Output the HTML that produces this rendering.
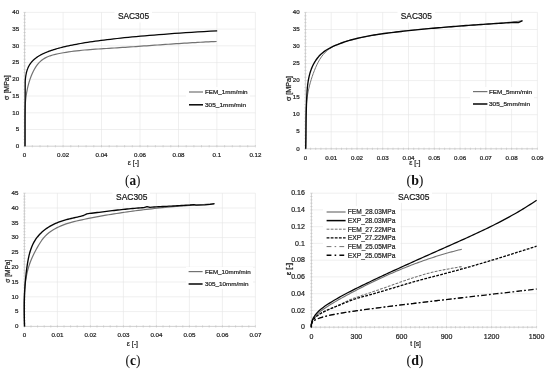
<!DOCTYPE html>
<html><head><meta charset="utf-8"><title>SAC305</title>
<style>html,body{margin:0;padding:0;background:#fff;}svg{display:block;}</style></head>
<body>
<svg width="550" height="370" viewBox="0 0 550 370">
<rect width="550" height="370" fill="#fff"/>
<line x1="63.1" y1="146.2" x2="63.1" y2="12.4" stroke="#e4e4e4" stroke-width="0.6"/>
<line x1="101.5" y1="146.2" x2="101.5" y2="12.4" stroke="#e4e4e4" stroke-width="0.6"/>
<line x1="140.0" y1="146.2" x2="140.0" y2="12.4" stroke="#e4e4e4" stroke-width="0.6"/>
<line x1="178.5" y1="146.2" x2="178.5" y2="12.4" stroke="#e4e4e4" stroke-width="0.6"/>
<line x1="216.9" y1="146.2" x2="216.9" y2="12.4" stroke="#e4e4e4" stroke-width="0.6"/>
<line x1="255.4" y1="146.2" x2="255.4" y2="12.4" stroke="#e4e4e4" stroke-width="0.6"/>
<line x1="24.6" y1="129.5" x2="255.4" y2="129.5" stroke="#e4e4e4" stroke-width="0.6"/>
<line x1="24.6" y1="112.8" x2="255.4" y2="112.8" stroke="#e4e4e4" stroke-width="0.6"/>
<line x1="24.6" y1="96.0" x2="255.4" y2="96.0" stroke="#e4e4e4" stroke-width="0.6"/>
<line x1="24.6" y1="79.3" x2="255.4" y2="79.3" stroke="#e4e4e4" stroke-width="0.6"/>
<line x1="24.6" y1="62.6" x2="255.4" y2="62.6" stroke="#e4e4e4" stroke-width="0.6"/>
<line x1="24.6" y1="45.8" x2="255.4" y2="45.8" stroke="#e4e4e4" stroke-width="0.6"/>
<line x1="24.6" y1="29.1" x2="255.4" y2="29.1" stroke="#e4e4e4" stroke-width="0.6"/>
<line x1="24.6" y1="12.4" x2="255.4" y2="12.4" stroke="#e4e4e4" stroke-width="0.6"/>
<line x1="24.6" y1="146.2" x2="255.4" y2="146.2" stroke="#bcbcbc" stroke-width="0.7"/>
<line x1="24.6" y1="146.2" x2="24.6" y2="12.4" stroke="#bcbcbc" stroke-width="0.7"/>
<line x1="24.6" y1="145.0" x2="24.6" y2="147.4" stroke="#bcbcbc" stroke-width="0.5"/>
<line x1="32.3" y1="145.0" x2="32.3" y2="147.4" stroke="#bcbcbc" stroke-width="0.5"/>
<line x1="40.0" y1="145.0" x2="40.0" y2="147.4" stroke="#bcbcbc" stroke-width="0.5"/>
<line x1="47.7" y1="145.0" x2="47.7" y2="147.4" stroke="#bcbcbc" stroke-width="0.5"/>
<line x1="55.4" y1="145.0" x2="55.4" y2="147.4" stroke="#bcbcbc" stroke-width="0.5"/>
<line x1="63.1" y1="145.0" x2="63.1" y2="147.4" stroke="#bcbcbc" stroke-width="0.5"/>
<line x1="70.8" y1="145.0" x2="70.8" y2="147.4" stroke="#bcbcbc" stroke-width="0.5"/>
<line x1="78.5" y1="145.0" x2="78.5" y2="147.4" stroke="#bcbcbc" stroke-width="0.5"/>
<line x1="86.1" y1="145.0" x2="86.1" y2="147.4" stroke="#bcbcbc" stroke-width="0.5"/>
<line x1="93.8" y1="145.0" x2="93.8" y2="147.4" stroke="#bcbcbc" stroke-width="0.5"/>
<line x1="101.5" y1="145.0" x2="101.5" y2="147.4" stroke="#bcbcbc" stroke-width="0.5"/>
<line x1="109.2" y1="145.0" x2="109.2" y2="147.4" stroke="#bcbcbc" stroke-width="0.5"/>
<line x1="116.9" y1="145.0" x2="116.9" y2="147.4" stroke="#bcbcbc" stroke-width="0.5"/>
<line x1="124.6" y1="145.0" x2="124.6" y2="147.4" stroke="#bcbcbc" stroke-width="0.5"/>
<line x1="132.3" y1="145.0" x2="132.3" y2="147.4" stroke="#bcbcbc" stroke-width="0.5"/>
<line x1="140.0" y1="145.0" x2="140.0" y2="147.4" stroke="#bcbcbc" stroke-width="0.5"/>
<line x1="147.7" y1="145.0" x2="147.7" y2="147.4" stroke="#bcbcbc" stroke-width="0.5"/>
<line x1="155.4" y1="145.0" x2="155.4" y2="147.4" stroke="#bcbcbc" stroke-width="0.5"/>
<line x1="163.1" y1="145.0" x2="163.1" y2="147.4" stroke="#bcbcbc" stroke-width="0.5"/>
<line x1="170.8" y1="145.0" x2="170.8" y2="147.4" stroke="#bcbcbc" stroke-width="0.5"/>
<line x1="178.5" y1="145.0" x2="178.5" y2="147.4" stroke="#bcbcbc" stroke-width="0.5"/>
<line x1="186.2" y1="145.0" x2="186.2" y2="147.4" stroke="#bcbcbc" stroke-width="0.5"/>
<line x1="193.9" y1="145.0" x2="193.9" y2="147.4" stroke="#bcbcbc" stroke-width="0.5"/>
<line x1="201.5" y1="145.0" x2="201.5" y2="147.4" stroke="#bcbcbc" stroke-width="0.5"/>
<line x1="209.2" y1="145.0" x2="209.2" y2="147.4" stroke="#bcbcbc" stroke-width="0.5"/>
<line x1="216.9" y1="145.0" x2="216.9" y2="147.4" stroke="#bcbcbc" stroke-width="0.5"/>
<line x1="224.6" y1="145.0" x2="224.6" y2="147.4" stroke="#bcbcbc" stroke-width="0.5"/>
<line x1="232.3" y1="145.0" x2="232.3" y2="147.4" stroke="#bcbcbc" stroke-width="0.5"/>
<line x1="240.0" y1="145.0" x2="240.0" y2="147.4" stroke="#bcbcbc" stroke-width="0.5"/>
<line x1="247.7" y1="145.0" x2="247.7" y2="147.4" stroke="#bcbcbc" stroke-width="0.5"/>
<line x1="255.4" y1="145.0" x2="255.4" y2="147.4" stroke="#bcbcbc" stroke-width="0.5"/>
<line x1="23.4" y1="146.2" x2="25.8" y2="146.2" stroke="#bcbcbc" stroke-width="0.5"/>
<line x1="23.4" y1="142.9" x2="25.8" y2="142.9" stroke="#bcbcbc" stroke-width="0.5"/>
<line x1="23.4" y1="139.5" x2="25.8" y2="139.5" stroke="#bcbcbc" stroke-width="0.5"/>
<line x1="23.4" y1="136.2" x2="25.8" y2="136.2" stroke="#bcbcbc" stroke-width="0.5"/>
<line x1="23.4" y1="132.8" x2="25.8" y2="132.8" stroke="#bcbcbc" stroke-width="0.5"/>
<line x1="23.4" y1="129.5" x2="25.8" y2="129.5" stroke="#bcbcbc" stroke-width="0.5"/>
<line x1="23.4" y1="126.1" x2="25.8" y2="126.1" stroke="#bcbcbc" stroke-width="0.5"/>
<line x1="23.4" y1="122.8" x2="25.8" y2="122.8" stroke="#bcbcbc" stroke-width="0.5"/>
<line x1="23.4" y1="119.4" x2="25.8" y2="119.4" stroke="#bcbcbc" stroke-width="0.5"/>
<line x1="23.4" y1="116.1" x2="25.8" y2="116.1" stroke="#bcbcbc" stroke-width="0.5"/>
<line x1="23.4" y1="112.8" x2="25.8" y2="112.8" stroke="#bcbcbc" stroke-width="0.5"/>
<line x1="23.4" y1="109.4" x2="25.8" y2="109.4" stroke="#bcbcbc" stroke-width="0.5"/>
<line x1="23.4" y1="106.1" x2="25.8" y2="106.1" stroke="#bcbcbc" stroke-width="0.5"/>
<line x1="23.4" y1="102.7" x2="25.8" y2="102.7" stroke="#bcbcbc" stroke-width="0.5"/>
<line x1="23.4" y1="99.4" x2="25.8" y2="99.4" stroke="#bcbcbc" stroke-width="0.5"/>
<line x1="23.4" y1="96.0" x2="25.8" y2="96.0" stroke="#bcbcbc" stroke-width="0.5"/>
<line x1="23.4" y1="92.7" x2="25.8" y2="92.7" stroke="#bcbcbc" stroke-width="0.5"/>
<line x1="23.4" y1="89.3" x2="25.8" y2="89.3" stroke="#bcbcbc" stroke-width="0.5"/>
<line x1="23.4" y1="86.0" x2="25.8" y2="86.0" stroke="#bcbcbc" stroke-width="0.5"/>
<line x1="23.4" y1="82.6" x2="25.8" y2="82.6" stroke="#bcbcbc" stroke-width="0.5"/>
<line x1="23.4" y1="79.3" x2="25.8" y2="79.3" stroke="#bcbcbc" stroke-width="0.5"/>
<line x1="23.4" y1="76.0" x2="25.8" y2="76.0" stroke="#bcbcbc" stroke-width="0.5"/>
<line x1="23.4" y1="72.6" x2="25.8" y2="72.6" stroke="#bcbcbc" stroke-width="0.5"/>
<line x1="23.4" y1="69.3" x2="25.8" y2="69.3" stroke="#bcbcbc" stroke-width="0.5"/>
<line x1="23.4" y1="65.9" x2="25.8" y2="65.9" stroke="#bcbcbc" stroke-width="0.5"/>
<line x1="23.4" y1="62.6" x2="25.8" y2="62.6" stroke="#bcbcbc" stroke-width="0.5"/>
<line x1="23.4" y1="59.2" x2="25.8" y2="59.2" stroke="#bcbcbc" stroke-width="0.5"/>
<line x1="23.4" y1="55.9" x2="25.8" y2="55.9" stroke="#bcbcbc" stroke-width="0.5"/>
<line x1="23.4" y1="52.5" x2="25.8" y2="52.5" stroke="#bcbcbc" stroke-width="0.5"/>
<line x1="23.4" y1="49.2" x2="25.8" y2="49.2" stroke="#bcbcbc" stroke-width="0.5"/>
<line x1="23.4" y1="45.8" x2="25.8" y2="45.8" stroke="#bcbcbc" stroke-width="0.5"/>
<line x1="23.4" y1="42.5" x2="25.8" y2="42.5" stroke="#bcbcbc" stroke-width="0.5"/>
<line x1="23.4" y1="39.2" x2="25.8" y2="39.2" stroke="#bcbcbc" stroke-width="0.5"/>
<line x1="23.4" y1="35.8" x2="25.8" y2="35.8" stroke="#bcbcbc" stroke-width="0.5"/>
<line x1="23.4" y1="32.5" x2="25.8" y2="32.5" stroke="#bcbcbc" stroke-width="0.5"/>
<line x1="23.4" y1="29.1" x2="25.8" y2="29.1" stroke="#bcbcbc" stroke-width="0.5"/>
<line x1="23.4" y1="25.8" x2="25.8" y2="25.8" stroke="#bcbcbc" stroke-width="0.5"/>
<line x1="23.4" y1="22.4" x2="25.8" y2="22.4" stroke="#bcbcbc" stroke-width="0.5"/>
<line x1="23.4" y1="19.1" x2="25.8" y2="19.1" stroke="#bcbcbc" stroke-width="0.5"/>
<line x1="23.4" y1="15.7" x2="25.8" y2="15.7" stroke="#bcbcbc" stroke-width="0.5"/>
<line x1="23.4" y1="12.4" x2="25.8" y2="12.4" stroke="#bcbcbc" stroke-width="0.5"/>
<text x="19.2" y="147.9" font-family='"Liberation Sans", sans-serif' font-size="6.2" font-weight="normal" text-anchor="end" fill="#1f1f1f" stroke="#1f1f1f" stroke-width="0.22">0</text>
<text x="19.2" y="131.2" font-family='"Liberation Sans", sans-serif' font-size="6.2" font-weight="normal" text-anchor="end" fill="#1f1f1f" stroke="#1f1f1f" stroke-width="0.22">5</text>
<text x="19.2" y="114.5" font-family='"Liberation Sans", sans-serif' font-size="6.2" font-weight="normal" text-anchor="end" fill="#1f1f1f" stroke="#1f1f1f" stroke-width="0.22">10</text>
<text x="19.2" y="97.7" font-family='"Liberation Sans", sans-serif' font-size="6.2" font-weight="normal" text-anchor="end" fill="#1f1f1f" stroke="#1f1f1f" stroke-width="0.22">15</text>
<text x="19.2" y="81.0" font-family='"Liberation Sans", sans-serif' font-size="6.2" font-weight="normal" text-anchor="end" fill="#1f1f1f" stroke="#1f1f1f" stroke-width="0.22">20</text>
<text x="19.2" y="64.3" font-family='"Liberation Sans", sans-serif' font-size="6.2" font-weight="normal" text-anchor="end" fill="#1f1f1f" stroke="#1f1f1f" stroke-width="0.22">25</text>
<text x="19.2" y="47.5" font-family='"Liberation Sans", sans-serif' font-size="6.2" font-weight="normal" text-anchor="end" fill="#1f1f1f" stroke="#1f1f1f" stroke-width="0.22">30</text>
<text x="19.2" y="30.8" font-family='"Liberation Sans", sans-serif' font-size="6.2" font-weight="normal" text-anchor="end" fill="#1f1f1f" stroke="#1f1f1f" stroke-width="0.22">35</text>
<text x="19.2" y="14.1" font-family='"Liberation Sans", sans-serif' font-size="6.2" font-weight="normal" text-anchor="end" fill="#1f1f1f" stroke="#1f1f1f" stroke-width="0.22">40</text>
<text x="24.6" y="157.4" font-family='"Liberation Sans", sans-serif' font-size="6.2" font-weight="normal" text-anchor="middle" fill="#1f1f1f" stroke="#1f1f1f" stroke-width="0.22">0</text>
<text x="63.1" y="157.4" font-family='"Liberation Sans", sans-serif' font-size="6.2" font-weight="normal" text-anchor="middle" fill="#1f1f1f" stroke="#1f1f1f" stroke-width="0.22">0.02</text>
<text x="101.5" y="157.4" font-family='"Liberation Sans", sans-serif' font-size="6.2" font-weight="normal" text-anchor="middle" fill="#1f1f1f" stroke="#1f1f1f" stroke-width="0.22">0.04</text>
<text x="140.0" y="157.4" font-family='"Liberation Sans", sans-serif' font-size="6.2" font-weight="normal" text-anchor="middle" fill="#1f1f1f" stroke="#1f1f1f" stroke-width="0.22">0.06</text>
<text x="178.5" y="157.4" font-family='"Liberation Sans", sans-serif' font-size="6.2" font-weight="normal" text-anchor="middle" fill="#1f1f1f" stroke="#1f1f1f" stroke-width="0.22">0.08</text>
<text x="216.9" y="157.4" font-family='"Liberation Sans", sans-serif' font-size="6.2" font-weight="normal" text-anchor="middle" fill="#1f1f1f" stroke="#1f1f1f" stroke-width="0.22">0.1</text>
<text x="255.4" y="157.4" font-family='"Liberation Sans", sans-serif' font-size="6.2" font-weight="normal" text-anchor="middle" fill="#1f1f1f" stroke="#1f1f1f" stroke-width="0.22">0.12</text>
<text x="133.3" y="165.4" font-family='"Liberation Sans", sans-serif' font-size="7.0" font-weight="normal" text-anchor="middle" fill="#1f1f1f" stroke="#1f1f1f" stroke-width="0.22">ε [-]</text>
<text x="8.9" y="87.6" font-family='"Liberation Sans", sans-serif' font-size="7.0" font-weight="normal" text-anchor="middle" fill="#1f1f1f" transform="rotate(-90 8.9 87.6)" stroke="#1f1f1f" stroke-width="0.22">σ [MPa]</text>
<rect x="114.5" y="8" width="37.5" height="14.5" fill="#fff"/>
<text x="133.5" y="19.4" font-family='"Liberation Sans", sans-serif' font-size="9.2" font-weight="normal" text-anchor="middle" fill="#151515" textLength="31.2" lengthAdjust="spacingAndGlyphs" stroke="#151515" stroke-width="0.22">SAC305</text>
<path d="M25.04 146.22 L25.06 143.51 L25.06 140.80 L25.04 138.09 L25.01 135.38 L24.96 132.68 L24.92 129.97 L24.87 127.27 L24.84 124.57 L24.81 121.87 L24.80 119.17 L24.81 116.48 L24.85 113.79 L24.92 111.11 L25.02 108.43 L25.17 105.75 L25.36 103.08 L25.60 100.42 L25.90 97.76 L26.26 95.11 L26.69 92.46 L27.19 89.82 L27.76 87.19 L28.41 84.57 L29.15 81.95 L29.98 79.34 L30.91 76.75 L31.94 74.18 L33.09 71.67 L34.38 69.24 L35.80 66.90 L37.38 64.70 L39.11 62.65 L41.01 60.81 L43.08 59.22 L45.31 57.87 L47.67 56.75 L50.15 55.81 L52.71 55.03 L55.33 54.37 L57.98 53.78 L60.64 53.25 L63.31 52.76 L65.98 52.30 L68.65 51.88 L71.32 51.50 L74.00 51.15 L76.68 50.83 L79.36 50.53 L82.05 50.26 L84.74 50.01 L87.42 49.78 L90.11 49.56 L92.80 49.36 L95.50 49.18 L98.19 49.00 L100.88 48.83 L103.57 48.66 L106.27 48.50 L108.96 48.33 L111.65 48.17 L114.34 48.00 L117.04 47.82 L119.73 47.65 L122.42 47.47 L125.11 47.29 L127.80 47.10 L130.49 46.92 L133.18 46.73 L135.87 46.54 L138.56 46.35 L141.25 46.16 L143.94 45.97 L146.63 45.78 L149.31 45.59 L152.00 45.39 L154.69 45.20 L157.38 45.01 L160.07 44.82 L162.76 44.63 L165.45 44.45 L168.14 44.26 L170.83 44.08 L173.52 43.89 L176.21 43.71 L178.90 43.54 L181.59 43.36 L184.28 43.19 L186.97 43.03 L189.66 42.86 L192.36 42.70 L195.05 42.55 L197.74 42.40 L200.43 42.25 L203.13 42.11 L205.82 41.97 L208.52 41.84 L211.22 41.71 L213.91 41.59 L216.61 41.48" fill="none" stroke="#727272" stroke-width="1.2" stroke-linejoin="round" stroke-linecap="butt"/>
<path d="M25.00 146.20 L25.08 126.13 L25.15 106.06 L25.23 85.99 L25.24 84.32 L25.24 83.93 L25.24 83.55 L25.24 83.16 L25.24 82.78 L25.24 82.39 L25.25 82.01 L25.25 81.62 L25.25 81.24 L25.25 80.85 L25.28 80.47 L25.32 80.08 L25.35 79.70 L25.39 79.31 L25.43 78.93 L25.47 78.54 L25.51 78.16 L25.55 77.77 L25.60 77.39 L25.65 77.00 L25.70 76.62 L25.76 76.23 L25.81 75.85 L25.87 75.46 L25.94 75.08 L26.01 74.69 L26.08 74.31 L26.15 73.92 L26.23 73.54 L26.31 73.15 L26.40 72.77 L26.49 72.38 L26.59 72.00 L26.69 71.61 L26.79 71.23 L26.90 70.84 L27.02 70.46 L27.14 70.07 L27.27 69.69 L27.40 69.30 L27.55 68.92 L27.69 68.53 L27.85 68.15 L28.01 67.76 L28.18 67.38 L28.36 66.99 L28.55 66.61 L28.74 66.22 L28.95 65.84 L29.16 65.45 L29.39 65.07 L29.62 64.68 L29.87 64.30 L30.13 63.91 L30.40 63.53 L30.68 63.14 L30.97 62.76 L31.28 62.37 L31.60 61.99 L31.94 61.60 L32.29 61.22 L32.66 60.83 L33.04 60.45 L33.44 60.06 L33.86 59.68 L34.29 59.29 L34.75 58.91 L35.22 58.52 L35.72 58.14 L36.23 57.75 L36.77 57.36 L37.33 56.98 L37.92 56.59 L38.53 56.21 L39.16 55.82 L39.82 55.44 L40.51 55.05 L41.23 54.67 L41.98 54.28 L42.76 53.90 L43.57 53.51 L44.41 53.13 L45.29 52.74 L46.20 52.36 L47.15 51.97 L48.13 51.59 L49.16 51.20 L50.23 50.82 L51.34 50.43 L52.49 50.05 L53.69 49.66 L54.94 49.28 L56.23 48.89 L57.58 48.51 L58.97 48.12 L60.43 47.74 L61.93 47.35 L63.50 46.97 L65.12 46.58 L66.80 46.20 L68.55 45.81 L70.37 45.43 L72.25 45.04 L74.20 44.66 L76.23 44.27 L78.33 43.89 L80.51 43.50 L82.76 43.12 L85.11 42.73 L87.53 42.35 L90.05 41.96 L92.65 41.58 L95.35 41.19 L98.15 40.81 L101.04 40.42 L104.05 40.04 L107.15 39.65 L110.37 39.27 L113.70 38.88 L117.15 38.50 L120.72 38.11 L124.41 37.73 L128.23 37.34 L132.18 36.96 L136.27 36.57 L140.51 36.19 L144.88 35.80 L149.41 35.42 L154.09 35.03 L158.93 34.65 L163.93 34.26 L169.10 33.88 L174.45 33.49 L179.97 33.11 L185.68 32.72 L191.58 32.34 L197.67 31.95 L203.96 31.57 L210.46 31.18 L217.18 30.80" fill="none" stroke="#050505" stroke-width="1.25" stroke-linejoin="round" stroke-linecap="butt"/>
<rect x="186" y="87" width="64" height="22" fill="#fff"/>
<line x1="189" y1="92" x2="203" y2="92" stroke="#727272" stroke-width="1.2"/>
<line x1="189" y1="104.8" x2="203" y2="104.8" stroke="#050505" stroke-width="1.5"/>
<text x="205.0" y="94.0" font-family='"Liberation Sans", sans-serif' font-size="6.2" font-weight="normal" text-anchor="start" fill="#1f1f1f" textLength="42.6" lengthAdjust="spacingAndGlyphs" stroke="#1f1f1f" stroke-width="0.22">FEM_1mm/min</text>
<text x="205.0" y="106.8" font-family='"Liberation Sans", sans-serif' font-size="6.2" font-weight="normal" text-anchor="start" fill="#1f1f1f" textLength="41.0" lengthAdjust="spacingAndGlyphs" stroke="#1f1f1f" stroke-width="0.22">305_1mm/min</text>
<text x="132.8" y="184.5" font-family='"Liberation Serif", serif' font-size="14.5" text-anchor="middle" fill="#111" textLength="15.5" lengthAdjust="spacingAndGlyphs">(<tspan font-weight="bold">a</tspan>)</text>
<line x1="331.2" y1="148.8" x2="331.2" y2="12.4" stroke="#e4e4e4" stroke-width="0.6"/>
<line x1="357.0" y1="148.8" x2="357.0" y2="12.4" stroke="#e4e4e4" stroke-width="0.6"/>
<line x1="382.7" y1="148.8" x2="382.7" y2="12.4" stroke="#e4e4e4" stroke-width="0.6"/>
<line x1="408.5" y1="148.8" x2="408.5" y2="12.4" stroke="#e4e4e4" stroke-width="0.6"/>
<line x1="434.3" y1="148.8" x2="434.3" y2="12.4" stroke="#e4e4e4" stroke-width="0.6"/>
<line x1="460.1" y1="148.8" x2="460.1" y2="12.4" stroke="#e4e4e4" stroke-width="0.6"/>
<line x1="485.8" y1="148.8" x2="485.8" y2="12.4" stroke="#e4e4e4" stroke-width="0.6"/>
<line x1="511.6" y1="148.8" x2="511.6" y2="12.4" stroke="#e4e4e4" stroke-width="0.6"/>
<line x1="537.4" y1="148.8" x2="537.4" y2="12.4" stroke="#e4e4e4" stroke-width="0.6"/>
<line x1="305.4" y1="131.8" x2="537.4" y2="131.8" stroke="#e4e4e4" stroke-width="0.6"/>
<line x1="305.4" y1="114.7" x2="537.4" y2="114.7" stroke="#e4e4e4" stroke-width="0.6"/>
<line x1="305.4" y1="97.7" x2="537.4" y2="97.7" stroke="#e4e4e4" stroke-width="0.6"/>
<line x1="305.4" y1="80.6" x2="537.4" y2="80.6" stroke="#e4e4e4" stroke-width="0.6"/>
<line x1="305.4" y1="63.6" x2="537.4" y2="63.6" stroke="#e4e4e4" stroke-width="0.6"/>
<line x1="305.4" y1="46.5" x2="537.4" y2="46.5" stroke="#e4e4e4" stroke-width="0.6"/>
<line x1="305.4" y1="29.5" x2="537.4" y2="29.5" stroke="#e4e4e4" stroke-width="0.6"/>
<line x1="305.4" y1="12.4" x2="537.4" y2="12.4" stroke="#e4e4e4" stroke-width="0.6"/>
<line x1="305.4" y1="148.8" x2="537.4" y2="148.8" stroke="#bcbcbc" stroke-width="0.7"/>
<line x1="305.4" y1="148.8" x2="305.4" y2="12.4" stroke="#bcbcbc" stroke-width="0.7"/>
<line x1="305.4" y1="147.6" x2="305.4" y2="150.0" stroke="#bcbcbc" stroke-width="0.5"/>
<line x1="310.6" y1="147.6" x2="310.6" y2="150.0" stroke="#bcbcbc" stroke-width="0.5"/>
<line x1="315.7" y1="147.6" x2="315.7" y2="150.0" stroke="#bcbcbc" stroke-width="0.5"/>
<line x1="320.9" y1="147.6" x2="320.9" y2="150.0" stroke="#bcbcbc" stroke-width="0.5"/>
<line x1="326.0" y1="147.6" x2="326.0" y2="150.0" stroke="#bcbcbc" stroke-width="0.5"/>
<line x1="331.2" y1="147.6" x2="331.2" y2="150.0" stroke="#bcbcbc" stroke-width="0.5"/>
<line x1="336.3" y1="147.6" x2="336.3" y2="150.0" stroke="#bcbcbc" stroke-width="0.5"/>
<line x1="341.5" y1="147.6" x2="341.5" y2="150.0" stroke="#bcbcbc" stroke-width="0.5"/>
<line x1="346.6" y1="147.6" x2="346.6" y2="150.0" stroke="#bcbcbc" stroke-width="0.5"/>
<line x1="351.8" y1="147.6" x2="351.8" y2="150.0" stroke="#bcbcbc" stroke-width="0.5"/>
<line x1="357.0" y1="147.6" x2="357.0" y2="150.0" stroke="#bcbcbc" stroke-width="0.5"/>
<line x1="362.1" y1="147.6" x2="362.1" y2="150.0" stroke="#bcbcbc" stroke-width="0.5"/>
<line x1="367.3" y1="147.6" x2="367.3" y2="150.0" stroke="#bcbcbc" stroke-width="0.5"/>
<line x1="372.4" y1="147.6" x2="372.4" y2="150.0" stroke="#bcbcbc" stroke-width="0.5"/>
<line x1="377.6" y1="147.6" x2="377.6" y2="150.0" stroke="#bcbcbc" stroke-width="0.5"/>
<line x1="382.7" y1="147.6" x2="382.7" y2="150.0" stroke="#bcbcbc" stroke-width="0.5"/>
<line x1="387.9" y1="147.6" x2="387.9" y2="150.0" stroke="#bcbcbc" stroke-width="0.5"/>
<line x1="393.0" y1="147.6" x2="393.0" y2="150.0" stroke="#bcbcbc" stroke-width="0.5"/>
<line x1="398.2" y1="147.6" x2="398.2" y2="150.0" stroke="#bcbcbc" stroke-width="0.5"/>
<line x1="403.4" y1="147.6" x2="403.4" y2="150.0" stroke="#bcbcbc" stroke-width="0.5"/>
<line x1="408.5" y1="147.6" x2="408.5" y2="150.0" stroke="#bcbcbc" stroke-width="0.5"/>
<line x1="413.7" y1="147.6" x2="413.7" y2="150.0" stroke="#bcbcbc" stroke-width="0.5"/>
<line x1="418.8" y1="147.6" x2="418.8" y2="150.0" stroke="#bcbcbc" stroke-width="0.5"/>
<line x1="424.0" y1="147.6" x2="424.0" y2="150.0" stroke="#bcbcbc" stroke-width="0.5"/>
<line x1="429.1" y1="147.6" x2="429.1" y2="150.0" stroke="#bcbcbc" stroke-width="0.5"/>
<line x1="434.3" y1="147.6" x2="434.3" y2="150.0" stroke="#bcbcbc" stroke-width="0.5"/>
<line x1="439.4" y1="147.6" x2="439.4" y2="150.0" stroke="#bcbcbc" stroke-width="0.5"/>
<line x1="444.6" y1="147.6" x2="444.6" y2="150.0" stroke="#bcbcbc" stroke-width="0.5"/>
<line x1="449.8" y1="147.6" x2="449.8" y2="150.0" stroke="#bcbcbc" stroke-width="0.5"/>
<line x1="454.9" y1="147.6" x2="454.9" y2="150.0" stroke="#bcbcbc" stroke-width="0.5"/>
<line x1="460.1" y1="147.6" x2="460.1" y2="150.0" stroke="#bcbcbc" stroke-width="0.5"/>
<line x1="465.2" y1="147.6" x2="465.2" y2="150.0" stroke="#bcbcbc" stroke-width="0.5"/>
<line x1="470.4" y1="147.6" x2="470.4" y2="150.0" stroke="#bcbcbc" stroke-width="0.5"/>
<line x1="475.5" y1="147.6" x2="475.5" y2="150.0" stroke="#bcbcbc" stroke-width="0.5"/>
<line x1="480.7" y1="147.6" x2="480.7" y2="150.0" stroke="#bcbcbc" stroke-width="0.5"/>
<line x1="485.8" y1="147.6" x2="485.8" y2="150.0" stroke="#bcbcbc" stroke-width="0.5"/>
<line x1="491.0" y1="147.6" x2="491.0" y2="150.0" stroke="#bcbcbc" stroke-width="0.5"/>
<line x1="496.2" y1="147.6" x2="496.2" y2="150.0" stroke="#bcbcbc" stroke-width="0.5"/>
<line x1="501.3" y1="147.6" x2="501.3" y2="150.0" stroke="#bcbcbc" stroke-width="0.5"/>
<line x1="506.5" y1="147.6" x2="506.5" y2="150.0" stroke="#bcbcbc" stroke-width="0.5"/>
<line x1="511.6" y1="147.6" x2="511.6" y2="150.0" stroke="#bcbcbc" stroke-width="0.5"/>
<line x1="516.8" y1="147.6" x2="516.8" y2="150.0" stroke="#bcbcbc" stroke-width="0.5"/>
<line x1="521.9" y1="147.6" x2="521.9" y2="150.0" stroke="#bcbcbc" stroke-width="0.5"/>
<line x1="527.1" y1="147.6" x2="527.1" y2="150.0" stroke="#bcbcbc" stroke-width="0.5"/>
<line x1="532.2" y1="147.6" x2="532.2" y2="150.0" stroke="#bcbcbc" stroke-width="0.5"/>
<line x1="537.4" y1="147.6" x2="537.4" y2="150.0" stroke="#bcbcbc" stroke-width="0.5"/>
<line x1="304.2" y1="148.8" x2="306.6" y2="148.8" stroke="#bcbcbc" stroke-width="0.5"/>
<line x1="304.2" y1="145.4" x2="306.6" y2="145.4" stroke="#bcbcbc" stroke-width="0.5"/>
<line x1="304.2" y1="142.0" x2="306.6" y2="142.0" stroke="#bcbcbc" stroke-width="0.5"/>
<line x1="304.2" y1="138.6" x2="306.6" y2="138.6" stroke="#bcbcbc" stroke-width="0.5"/>
<line x1="304.2" y1="135.2" x2="306.6" y2="135.2" stroke="#bcbcbc" stroke-width="0.5"/>
<line x1="304.2" y1="131.8" x2="306.6" y2="131.8" stroke="#bcbcbc" stroke-width="0.5"/>
<line x1="304.2" y1="128.3" x2="306.6" y2="128.3" stroke="#bcbcbc" stroke-width="0.5"/>
<line x1="304.2" y1="124.9" x2="306.6" y2="124.9" stroke="#bcbcbc" stroke-width="0.5"/>
<line x1="304.2" y1="121.5" x2="306.6" y2="121.5" stroke="#bcbcbc" stroke-width="0.5"/>
<line x1="304.2" y1="118.1" x2="306.6" y2="118.1" stroke="#bcbcbc" stroke-width="0.5"/>
<line x1="304.2" y1="114.7" x2="306.6" y2="114.7" stroke="#bcbcbc" stroke-width="0.5"/>
<line x1="304.2" y1="111.3" x2="306.6" y2="111.3" stroke="#bcbcbc" stroke-width="0.5"/>
<line x1="304.2" y1="107.9" x2="306.6" y2="107.9" stroke="#bcbcbc" stroke-width="0.5"/>
<line x1="304.2" y1="104.5" x2="306.6" y2="104.5" stroke="#bcbcbc" stroke-width="0.5"/>
<line x1="304.2" y1="101.1" x2="306.6" y2="101.1" stroke="#bcbcbc" stroke-width="0.5"/>
<line x1="304.2" y1="97.7" x2="306.6" y2="97.7" stroke="#bcbcbc" stroke-width="0.5"/>
<line x1="304.2" y1="94.2" x2="306.6" y2="94.2" stroke="#bcbcbc" stroke-width="0.5"/>
<line x1="304.2" y1="90.8" x2="306.6" y2="90.8" stroke="#bcbcbc" stroke-width="0.5"/>
<line x1="304.2" y1="87.4" x2="306.6" y2="87.4" stroke="#bcbcbc" stroke-width="0.5"/>
<line x1="304.2" y1="84.0" x2="306.6" y2="84.0" stroke="#bcbcbc" stroke-width="0.5"/>
<line x1="304.2" y1="80.6" x2="306.6" y2="80.6" stroke="#bcbcbc" stroke-width="0.5"/>
<line x1="304.2" y1="77.2" x2="306.6" y2="77.2" stroke="#bcbcbc" stroke-width="0.5"/>
<line x1="304.2" y1="73.8" x2="306.6" y2="73.8" stroke="#bcbcbc" stroke-width="0.5"/>
<line x1="304.2" y1="70.4" x2="306.6" y2="70.4" stroke="#bcbcbc" stroke-width="0.5"/>
<line x1="304.2" y1="67.0" x2="306.6" y2="67.0" stroke="#bcbcbc" stroke-width="0.5"/>
<line x1="304.2" y1="63.6" x2="306.6" y2="63.6" stroke="#bcbcbc" stroke-width="0.5"/>
<line x1="304.2" y1="60.1" x2="306.6" y2="60.1" stroke="#bcbcbc" stroke-width="0.5"/>
<line x1="304.2" y1="56.7" x2="306.6" y2="56.7" stroke="#bcbcbc" stroke-width="0.5"/>
<line x1="304.2" y1="53.3" x2="306.6" y2="53.3" stroke="#bcbcbc" stroke-width="0.5"/>
<line x1="304.2" y1="49.9" x2="306.6" y2="49.9" stroke="#bcbcbc" stroke-width="0.5"/>
<line x1="304.2" y1="46.5" x2="306.6" y2="46.5" stroke="#bcbcbc" stroke-width="0.5"/>
<line x1="304.2" y1="43.1" x2="306.6" y2="43.1" stroke="#bcbcbc" stroke-width="0.5"/>
<line x1="304.2" y1="39.7" x2="306.6" y2="39.7" stroke="#bcbcbc" stroke-width="0.5"/>
<line x1="304.2" y1="36.3" x2="306.6" y2="36.3" stroke="#bcbcbc" stroke-width="0.5"/>
<line x1="304.2" y1="32.9" x2="306.6" y2="32.9" stroke="#bcbcbc" stroke-width="0.5"/>
<line x1="304.2" y1="29.5" x2="306.6" y2="29.5" stroke="#bcbcbc" stroke-width="0.5"/>
<line x1="304.2" y1="26.0" x2="306.6" y2="26.0" stroke="#bcbcbc" stroke-width="0.5"/>
<line x1="304.2" y1="22.6" x2="306.6" y2="22.6" stroke="#bcbcbc" stroke-width="0.5"/>
<line x1="304.2" y1="19.2" x2="306.6" y2="19.2" stroke="#bcbcbc" stroke-width="0.5"/>
<line x1="304.2" y1="15.8" x2="306.6" y2="15.8" stroke="#bcbcbc" stroke-width="0.5"/>
<line x1="304.2" y1="12.4" x2="306.6" y2="12.4" stroke="#bcbcbc" stroke-width="0.5"/>
<text x="299.6" y="150.5" font-family='"Liberation Sans", sans-serif' font-size="6.2" font-weight="normal" text-anchor="end" fill="#1f1f1f" stroke="#1f1f1f" stroke-width="0.22">0</text>
<text x="299.6" y="133.4" font-family='"Liberation Sans", sans-serif' font-size="6.2" font-weight="normal" text-anchor="end" fill="#1f1f1f" stroke="#1f1f1f" stroke-width="0.22">5</text>
<text x="299.6" y="116.4" font-family='"Liberation Sans", sans-serif' font-size="6.2" font-weight="normal" text-anchor="end" fill="#1f1f1f" stroke="#1f1f1f" stroke-width="0.22">10</text>
<text x="299.6" y="99.4" font-family='"Liberation Sans", sans-serif' font-size="6.2" font-weight="normal" text-anchor="end" fill="#1f1f1f" stroke="#1f1f1f" stroke-width="0.22">15</text>
<text x="299.6" y="82.3" font-family='"Liberation Sans", sans-serif' font-size="6.2" font-weight="normal" text-anchor="end" fill="#1f1f1f" stroke="#1f1f1f" stroke-width="0.22">20</text>
<text x="299.6" y="65.3" font-family='"Liberation Sans", sans-serif' font-size="6.2" font-weight="normal" text-anchor="end" fill="#1f1f1f" stroke="#1f1f1f" stroke-width="0.22">25</text>
<text x="299.6" y="48.2" font-family='"Liberation Sans", sans-serif' font-size="6.2" font-weight="normal" text-anchor="end" fill="#1f1f1f" stroke="#1f1f1f" stroke-width="0.22">30</text>
<text x="299.6" y="31.2" font-family='"Liberation Sans", sans-serif' font-size="6.2" font-weight="normal" text-anchor="end" fill="#1f1f1f" stroke="#1f1f1f" stroke-width="0.22">35</text>
<text x="299.6" y="14.1" font-family='"Liberation Sans", sans-serif' font-size="6.2" font-weight="normal" text-anchor="end" fill="#1f1f1f" stroke="#1f1f1f" stroke-width="0.22">40</text>
<text x="305.4" y="159.5" font-family='"Liberation Sans", sans-serif' font-size="6.2" font-weight="normal" text-anchor="middle" fill="#1f1f1f" stroke="#1f1f1f" stroke-width="0.22">0</text>
<text x="331.2" y="159.5" font-family='"Liberation Sans", sans-serif' font-size="6.2" font-weight="normal" text-anchor="middle" fill="#1f1f1f" stroke="#1f1f1f" stroke-width="0.22">0.01</text>
<text x="357.0" y="159.5" font-family='"Liberation Sans", sans-serif' font-size="6.2" font-weight="normal" text-anchor="middle" fill="#1f1f1f" stroke="#1f1f1f" stroke-width="0.22">0.02</text>
<text x="382.7" y="159.5" font-family='"Liberation Sans", sans-serif' font-size="6.2" font-weight="normal" text-anchor="middle" fill="#1f1f1f" stroke="#1f1f1f" stroke-width="0.22">0.03</text>
<text x="408.5" y="159.5" font-family='"Liberation Sans", sans-serif' font-size="6.2" font-weight="normal" text-anchor="middle" fill="#1f1f1f" stroke="#1f1f1f" stroke-width="0.22">0.04</text>
<text x="434.3" y="159.5" font-family='"Liberation Sans", sans-serif' font-size="6.2" font-weight="normal" text-anchor="middle" fill="#1f1f1f" stroke="#1f1f1f" stroke-width="0.22">0.05</text>
<text x="460.1" y="159.5" font-family='"Liberation Sans", sans-serif' font-size="6.2" font-weight="normal" text-anchor="middle" fill="#1f1f1f" stroke="#1f1f1f" stroke-width="0.22">0.06</text>
<text x="485.8" y="159.5" font-family='"Liberation Sans", sans-serif' font-size="6.2" font-weight="normal" text-anchor="middle" fill="#1f1f1f" stroke="#1f1f1f" stroke-width="0.22">0.07</text>
<text x="511.6" y="159.5" font-family='"Liberation Sans", sans-serif' font-size="6.2" font-weight="normal" text-anchor="middle" fill="#1f1f1f" stroke="#1f1f1f" stroke-width="0.22">0.08</text>
<text x="537.4" y="159.5" font-family='"Liberation Sans", sans-serif' font-size="6.2" font-weight="normal" text-anchor="middle" fill="#1f1f1f" stroke="#1f1f1f" stroke-width="0.22">0.09</text>
<text x="414.8" y="165.4" font-family='"Liberation Sans", sans-serif' font-size="7.0" font-weight="normal" text-anchor="middle" fill="#1f1f1f" stroke="#1f1f1f" stroke-width="0.22">ε [-]</text>
<text x="291.4" y="88.5" font-family='"Liberation Sans", sans-serif' font-size="7.2" font-weight="normal" text-anchor="middle" fill="#1f1f1f" transform="rotate(-90 291.4 88.5)" stroke="#1f1f1f" stroke-width="0.22">σ [MPa]</text>
<rect x="397.5" y="8" width="37.5" height="14.5" fill="#fff"/>
<text x="416.3" y="19.4" font-family='"Liberation Sans", sans-serif' font-size="9.2" font-weight="normal" text-anchor="middle" fill="#151515" textLength="31.0" lengthAdjust="spacingAndGlyphs" stroke="#151515" stroke-width="0.22">SAC305</text>
<path d="M305.79 148.80 L305.90 145.77 L305.97 142.74 L306.00 139.69 L306.00 136.64 L305.99 133.59 L305.96 130.52 L305.93 127.46 L305.91 124.40 L305.90 121.33 L305.90 118.27 L305.94 115.21 L306.02 112.16 L306.14 109.11 L306.32 106.07 L306.55 103.04 L306.86 100.03 L307.25 97.02 L307.72 94.03 L308.27 91.05 L308.91 88.09 L309.63 85.14 L310.43 82.20 L311.31 79.28 L312.26 76.36 L313.28 73.46 L314.38 70.57 L315.56 67.69 L316.83 64.86 L318.22 62.11 L319.73 59.45 L321.39 56.92 L323.22 54.55 L325.24 52.35 L327.45 50.36 L329.85 48.57 L332.39 46.97 L335.06 45.53 L337.81 44.24 L340.63 43.08 L343.50 42.04 L346.41 41.11 L349.36 40.27 L352.33 39.50 L355.33 38.81 L358.34 38.17 L361.36 37.56 L364.38 36.99 L367.40 36.43 L370.41 35.89 L373.42 35.36 L376.43 34.86 L379.44 34.36 L382.44 33.89 L385.45 33.43 L388.45 32.99 L391.46 32.56 L394.47 32.15 L397.48 31.75 L400.49 31.37 L403.50 31.01 L406.52 30.66 L409.55 30.33 L412.57 30.01 L415.60 29.70 L418.63 29.40 L421.67 29.11 L424.70 28.84 L427.74 28.57 L430.78 28.32 L433.82 28.07 L436.86 27.82 L439.91 27.59 L442.95 27.36 L446.00 27.13 L449.05 26.91 L452.09 26.70 L455.14 26.48 L458.19 26.27 L461.24 26.06 L464.29 25.84 L467.34 25.63 L470.39 25.42 L473.43 25.20 L476.48 24.98 L479.53 24.76 L482.57 24.53 L485.62 24.30 L488.66 24.07 L491.70 23.82 L494.74 23.57 L497.77 23.31 L500.81 23.04 L503.84 22.76 L506.87 22.47 L509.90 22.17 L512.92 21.86 L515.95 21.53 L518.96 21.19 L521.98 20.84" fill="none" stroke="#727272" stroke-width="1.0" stroke-linejoin="round" stroke-linecap="butt"/>
<path d="M305.68 148.82 L305.73 146.28 L305.77 143.74 L305.81 141.22 L305.85 138.71 L305.88 136.20 L305.91 133.70 L305.95 131.20 L305.98 128.71 L306.01 126.22 L306.04 123.74 L306.08 121.26 L306.12 118.77 L306.16 116.29 L306.21 113.81 L306.27 111.32 L306.33 108.84 L306.41 106.34 L306.49 103.85 L306.58 101.34 L306.68 98.84 L306.79 96.32 L306.93 93.80 L307.08 91.27 L307.28 88.75 L307.52 86.24 L307.82 83.73 L308.18 81.24 L308.61 78.77 L309.14 76.31 L309.75 73.89 L310.47 71.49 L311.31 69.13 L312.26 66.82 L313.34 64.55 L314.54 62.36 L315.86 60.25 L317.31 58.24 L318.88 56.33 L320.57 54.55 L322.40 52.91 L324.34 51.40 L326.38 50.02 L328.51 48.74 L330.72 47.57 L332.99 46.48 L335.29 45.46 L337.63 44.51 L339.99 43.61 L342.35 42.75 L344.73 41.94 L347.12 41.17 L349.52 40.44 L351.92 39.75 L354.34 39.10 L356.76 38.48 L359.19 37.90 L361.63 37.34 L364.07 36.82 L366.53 36.33 L368.98 35.86 L371.45 35.42 L373.92 35.01 L376.39 34.61 L378.87 34.23 L381.35 33.88 L383.83 33.53 L386.32 33.21 L388.80 32.89 L391.29 32.59 L393.79 32.30 L396.28 32.02 L398.77 31.74 L401.26 31.46 L403.76 31.19 L406.25 30.93 L408.74 30.66 L411.23 30.40 L413.72 30.15 L416.21 29.90 L418.70 29.65 L421.19 29.40 L423.68 29.16 L426.17 28.92 L428.66 28.68 L431.15 28.45 L433.64 28.22 L436.13 28.00 L438.62 27.77 L441.11 27.56 L443.60 27.34 L446.09 27.13 L448.58 26.92 L451.07 26.71 L453.57 26.51 L456.06 26.31 L458.55 26.11 L461.04 25.92 L463.53 25.72 L466.03 25.54 L468.52 25.35 L471.01 25.17 L473.51 24.99 L476.00 24.81 L478.50 24.64 L480.99 24.47 L483.49 24.30 L485.99 24.14 L488.48 23.98 L490.98 23.82 L493.48 23.66 L495.98 23.51 L498.48 23.36 L500.98 23.21 L503.49 23.06 L505.99 22.92 L508.50 22.78 L511.00 22.64 L513.51 22.51 L516.01 22.38 L518.30 22.60 L522.60 20.70" fill="none" stroke="#050505" stroke-width="1.35" stroke-linejoin="round" stroke-linecap="butt"/>
<rect x="470" y="87" width="64" height="22" fill="#fff"/>
<line x1="473" y1="91.6" x2="487.4" y2="91.6" stroke="#727272" stroke-width="1.2"/>
<line x1="473" y1="104" x2="487.4" y2="104" stroke="#050505" stroke-width="1.5"/>
<text x="489.0" y="93.6" font-family='"Liberation Sans", sans-serif' font-size="6.2" font-weight="normal" text-anchor="start" fill="#1f1f1f" textLength="43.0" lengthAdjust="spacingAndGlyphs" stroke="#1f1f1f" stroke-width="0.22">FEM_5mm/min</text>
<text x="489.0" y="106.0" font-family='"Liberation Sans", sans-serif' font-size="6.2" font-weight="normal" text-anchor="start" fill="#1f1f1f" textLength="41.0" lengthAdjust="spacingAndGlyphs" stroke="#1f1f1f" stroke-width="0.22">305_5mm/min</text>
<text x="415.0" y="184.5" font-family='"Liberation Serif", serif' font-size="14.5" text-anchor="middle" fill="#111" textLength="17.0" lengthAdjust="spacingAndGlyphs">(<tspan font-weight="bold">b</tspan>)</text>
<line x1="57.4" y1="326.4" x2="57.4" y2="193.2" stroke="#e4e4e4" stroke-width="0.6"/>
<line x1="90.4" y1="326.4" x2="90.4" y2="193.2" stroke="#e4e4e4" stroke-width="0.6"/>
<line x1="123.4" y1="326.4" x2="123.4" y2="193.2" stroke="#e4e4e4" stroke-width="0.6"/>
<line x1="156.4" y1="326.4" x2="156.4" y2="193.2" stroke="#e4e4e4" stroke-width="0.6"/>
<line x1="189.4" y1="326.4" x2="189.4" y2="193.2" stroke="#e4e4e4" stroke-width="0.6"/>
<line x1="222.4" y1="326.4" x2="222.4" y2="193.2" stroke="#e4e4e4" stroke-width="0.6"/>
<line x1="255.4" y1="326.4" x2="255.4" y2="193.2" stroke="#e4e4e4" stroke-width="0.6"/>
<line x1="24.4" y1="311.6" x2="255.4" y2="311.6" stroke="#e4e4e4" stroke-width="0.6"/>
<line x1="24.4" y1="296.8" x2="255.4" y2="296.8" stroke="#e4e4e4" stroke-width="0.6"/>
<line x1="24.4" y1="282.0" x2="255.4" y2="282.0" stroke="#e4e4e4" stroke-width="0.6"/>
<line x1="24.4" y1="267.2" x2="255.4" y2="267.2" stroke="#e4e4e4" stroke-width="0.6"/>
<line x1="24.4" y1="252.4" x2="255.4" y2="252.4" stroke="#e4e4e4" stroke-width="0.6"/>
<line x1="24.4" y1="237.6" x2="255.4" y2="237.6" stroke="#e4e4e4" stroke-width="0.6"/>
<line x1="24.4" y1="222.8" x2="255.4" y2="222.8" stroke="#e4e4e4" stroke-width="0.6"/>
<line x1="24.4" y1="208.0" x2="255.4" y2="208.0" stroke="#e4e4e4" stroke-width="0.6"/>
<line x1="24.4" y1="193.2" x2="255.4" y2="193.2" stroke="#e4e4e4" stroke-width="0.6"/>
<line x1="24.4" y1="326.4" x2="255.4" y2="326.4" stroke="#bcbcbc" stroke-width="0.7"/>
<line x1="24.4" y1="326.4" x2="24.4" y2="193.2" stroke="#bcbcbc" stroke-width="0.7"/>
<line x1="24.4" y1="325.2" x2="24.4" y2="327.6" stroke="#bcbcbc" stroke-width="0.5"/>
<line x1="31.0" y1="325.2" x2="31.0" y2="327.6" stroke="#bcbcbc" stroke-width="0.5"/>
<line x1="37.6" y1="325.2" x2="37.6" y2="327.6" stroke="#bcbcbc" stroke-width="0.5"/>
<line x1="44.2" y1="325.2" x2="44.2" y2="327.6" stroke="#bcbcbc" stroke-width="0.5"/>
<line x1="50.8" y1="325.2" x2="50.8" y2="327.6" stroke="#bcbcbc" stroke-width="0.5"/>
<line x1="57.4" y1="325.2" x2="57.4" y2="327.6" stroke="#bcbcbc" stroke-width="0.5"/>
<line x1="64.0" y1="325.2" x2="64.0" y2="327.6" stroke="#bcbcbc" stroke-width="0.5"/>
<line x1="70.6" y1="325.2" x2="70.6" y2="327.6" stroke="#bcbcbc" stroke-width="0.5"/>
<line x1="77.2" y1="325.2" x2="77.2" y2="327.6" stroke="#bcbcbc" stroke-width="0.5"/>
<line x1="83.8" y1="325.2" x2="83.8" y2="327.6" stroke="#bcbcbc" stroke-width="0.5"/>
<line x1="90.4" y1="325.2" x2="90.4" y2="327.6" stroke="#bcbcbc" stroke-width="0.5"/>
<line x1="97.0" y1="325.2" x2="97.0" y2="327.6" stroke="#bcbcbc" stroke-width="0.5"/>
<line x1="103.6" y1="325.2" x2="103.6" y2="327.6" stroke="#bcbcbc" stroke-width="0.5"/>
<line x1="110.2" y1="325.2" x2="110.2" y2="327.6" stroke="#bcbcbc" stroke-width="0.5"/>
<line x1="116.8" y1="325.2" x2="116.8" y2="327.6" stroke="#bcbcbc" stroke-width="0.5"/>
<line x1="123.4" y1="325.2" x2="123.4" y2="327.6" stroke="#bcbcbc" stroke-width="0.5"/>
<line x1="130.0" y1="325.2" x2="130.0" y2="327.6" stroke="#bcbcbc" stroke-width="0.5"/>
<line x1="136.6" y1="325.2" x2="136.6" y2="327.6" stroke="#bcbcbc" stroke-width="0.5"/>
<line x1="143.2" y1="325.2" x2="143.2" y2="327.6" stroke="#bcbcbc" stroke-width="0.5"/>
<line x1="149.8" y1="325.2" x2="149.8" y2="327.6" stroke="#bcbcbc" stroke-width="0.5"/>
<line x1="156.4" y1="325.2" x2="156.4" y2="327.6" stroke="#bcbcbc" stroke-width="0.5"/>
<line x1="163.0" y1="325.2" x2="163.0" y2="327.6" stroke="#bcbcbc" stroke-width="0.5"/>
<line x1="169.6" y1="325.2" x2="169.6" y2="327.6" stroke="#bcbcbc" stroke-width="0.5"/>
<line x1="176.2" y1="325.2" x2="176.2" y2="327.6" stroke="#bcbcbc" stroke-width="0.5"/>
<line x1="182.8" y1="325.2" x2="182.8" y2="327.6" stroke="#bcbcbc" stroke-width="0.5"/>
<line x1="189.4" y1="325.2" x2="189.4" y2="327.6" stroke="#bcbcbc" stroke-width="0.5"/>
<line x1="196.0" y1="325.2" x2="196.0" y2="327.6" stroke="#bcbcbc" stroke-width="0.5"/>
<line x1="202.6" y1="325.2" x2="202.6" y2="327.6" stroke="#bcbcbc" stroke-width="0.5"/>
<line x1="209.2" y1="325.2" x2="209.2" y2="327.6" stroke="#bcbcbc" stroke-width="0.5"/>
<line x1="215.8" y1="325.2" x2="215.8" y2="327.6" stroke="#bcbcbc" stroke-width="0.5"/>
<line x1="222.4" y1="325.2" x2="222.4" y2="327.6" stroke="#bcbcbc" stroke-width="0.5"/>
<line x1="229.0" y1="325.2" x2="229.0" y2="327.6" stroke="#bcbcbc" stroke-width="0.5"/>
<line x1="235.6" y1="325.2" x2="235.6" y2="327.6" stroke="#bcbcbc" stroke-width="0.5"/>
<line x1="242.2" y1="325.2" x2="242.2" y2="327.6" stroke="#bcbcbc" stroke-width="0.5"/>
<line x1="248.8" y1="325.2" x2="248.8" y2="327.6" stroke="#bcbcbc" stroke-width="0.5"/>
<line x1="255.4" y1="325.2" x2="255.4" y2="327.6" stroke="#bcbcbc" stroke-width="0.5"/>
<line x1="23.2" y1="326.4" x2="25.6" y2="326.4" stroke="#bcbcbc" stroke-width="0.5"/>
<line x1="23.2" y1="323.4" x2="25.6" y2="323.4" stroke="#bcbcbc" stroke-width="0.5"/>
<line x1="23.2" y1="320.5" x2="25.6" y2="320.5" stroke="#bcbcbc" stroke-width="0.5"/>
<line x1="23.2" y1="317.5" x2="25.6" y2="317.5" stroke="#bcbcbc" stroke-width="0.5"/>
<line x1="23.2" y1="314.6" x2="25.6" y2="314.6" stroke="#bcbcbc" stroke-width="0.5"/>
<line x1="23.2" y1="311.6" x2="25.6" y2="311.6" stroke="#bcbcbc" stroke-width="0.5"/>
<line x1="23.2" y1="308.6" x2="25.6" y2="308.6" stroke="#bcbcbc" stroke-width="0.5"/>
<line x1="23.2" y1="305.7" x2="25.6" y2="305.7" stroke="#bcbcbc" stroke-width="0.5"/>
<line x1="23.2" y1="302.7" x2="25.6" y2="302.7" stroke="#bcbcbc" stroke-width="0.5"/>
<line x1="23.2" y1="299.8" x2="25.6" y2="299.8" stroke="#bcbcbc" stroke-width="0.5"/>
<line x1="23.2" y1="296.8" x2="25.6" y2="296.8" stroke="#bcbcbc" stroke-width="0.5"/>
<line x1="23.2" y1="293.8" x2="25.6" y2="293.8" stroke="#bcbcbc" stroke-width="0.5"/>
<line x1="23.2" y1="290.9" x2="25.6" y2="290.9" stroke="#bcbcbc" stroke-width="0.5"/>
<line x1="23.2" y1="287.9" x2="25.6" y2="287.9" stroke="#bcbcbc" stroke-width="0.5"/>
<line x1="23.2" y1="285.0" x2="25.6" y2="285.0" stroke="#bcbcbc" stroke-width="0.5"/>
<line x1="23.2" y1="282.0" x2="25.6" y2="282.0" stroke="#bcbcbc" stroke-width="0.5"/>
<line x1="23.2" y1="279.0" x2="25.6" y2="279.0" stroke="#bcbcbc" stroke-width="0.5"/>
<line x1="23.2" y1="276.1" x2="25.6" y2="276.1" stroke="#bcbcbc" stroke-width="0.5"/>
<line x1="23.2" y1="273.1" x2="25.6" y2="273.1" stroke="#bcbcbc" stroke-width="0.5"/>
<line x1="23.2" y1="270.2" x2="25.6" y2="270.2" stroke="#bcbcbc" stroke-width="0.5"/>
<line x1="23.2" y1="267.2" x2="25.6" y2="267.2" stroke="#bcbcbc" stroke-width="0.5"/>
<line x1="23.2" y1="264.2" x2="25.6" y2="264.2" stroke="#bcbcbc" stroke-width="0.5"/>
<line x1="23.2" y1="261.3" x2="25.6" y2="261.3" stroke="#bcbcbc" stroke-width="0.5"/>
<line x1="23.2" y1="258.3" x2="25.6" y2="258.3" stroke="#bcbcbc" stroke-width="0.5"/>
<line x1="23.2" y1="255.4" x2="25.6" y2="255.4" stroke="#bcbcbc" stroke-width="0.5"/>
<line x1="23.2" y1="252.4" x2="25.6" y2="252.4" stroke="#bcbcbc" stroke-width="0.5"/>
<line x1="23.2" y1="249.4" x2="25.6" y2="249.4" stroke="#bcbcbc" stroke-width="0.5"/>
<line x1="23.2" y1="246.5" x2="25.6" y2="246.5" stroke="#bcbcbc" stroke-width="0.5"/>
<line x1="23.2" y1="243.5" x2="25.6" y2="243.5" stroke="#bcbcbc" stroke-width="0.5"/>
<line x1="23.2" y1="240.6" x2="25.6" y2="240.6" stroke="#bcbcbc" stroke-width="0.5"/>
<line x1="23.2" y1="237.6" x2="25.6" y2="237.6" stroke="#bcbcbc" stroke-width="0.5"/>
<line x1="23.2" y1="234.6" x2="25.6" y2="234.6" stroke="#bcbcbc" stroke-width="0.5"/>
<line x1="23.2" y1="231.7" x2="25.6" y2="231.7" stroke="#bcbcbc" stroke-width="0.5"/>
<line x1="23.2" y1="228.7" x2="25.6" y2="228.7" stroke="#bcbcbc" stroke-width="0.5"/>
<line x1="23.2" y1="225.8" x2="25.6" y2="225.8" stroke="#bcbcbc" stroke-width="0.5"/>
<line x1="23.2" y1="222.8" x2="25.6" y2="222.8" stroke="#bcbcbc" stroke-width="0.5"/>
<line x1="23.2" y1="219.8" x2="25.6" y2="219.8" stroke="#bcbcbc" stroke-width="0.5"/>
<line x1="23.2" y1="216.9" x2="25.6" y2="216.9" stroke="#bcbcbc" stroke-width="0.5"/>
<line x1="23.2" y1="213.9" x2="25.6" y2="213.9" stroke="#bcbcbc" stroke-width="0.5"/>
<line x1="23.2" y1="211.0" x2="25.6" y2="211.0" stroke="#bcbcbc" stroke-width="0.5"/>
<line x1="23.2" y1="208.0" x2="25.6" y2="208.0" stroke="#bcbcbc" stroke-width="0.5"/>
<line x1="23.2" y1="205.0" x2="25.6" y2="205.0" stroke="#bcbcbc" stroke-width="0.5"/>
<line x1="23.2" y1="202.1" x2="25.6" y2="202.1" stroke="#bcbcbc" stroke-width="0.5"/>
<line x1="23.2" y1="199.1" x2="25.6" y2="199.1" stroke="#bcbcbc" stroke-width="0.5"/>
<line x1="23.2" y1="196.2" x2="25.6" y2="196.2" stroke="#bcbcbc" stroke-width="0.5"/>
<line x1="23.2" y1="193.2" x2="25.6" y2="193.2" stroke="#bcbcbc" stroke-width="0.5"/>
<text x="18.4" y="328.1" font-family='"Liberation Sans", sans-serif' font-size="6.2" font-weight="normal" text-anchor="end" fill="#1f1f1f" stroke="#1f1f1f" stroke-width="0.22">0</text>
<text x="18.4" y="313.3" font-family='"Liberation Sans", sans-serif' font-size="6.2" font-weight="normal" text-anchor="end" fill="#1f1f1f" stroke="#1f1f1f" stroke-width="0.22">5</text>
<text x="18.4" y="298.5" font-family='"Liberation Sans", sans-serif' font-size="6.2" font-weight="normal" text-anchor="end" fill="#1f1f1f" stroke="#1f1f1f" stroke-width="0.22">10</text>
<text x="18.4" y="283.7" font-family='"Liberation Sans", sans-serif' font-size="6.2" font-weight="normal" text-anchor="end" fill="#1f1f1f" stroke="#1f1f1f" stroke-width="0.22">15</text>
<text x="18.4" y="268.9" font-family='"Liberation Sans", sans-serif' font-size="6.2" font-weight="normal" text-anchor="end" fill="#1f1f1f" stroke="#1f1f1f" stroke-width="0.22">20</text>
<text x="18.4" y="254.1" font-family='"Liberation Sans", sans-serif' font-size="6.2" font-weight="normal" text-anchor="end" fill="#1f1f1f" stroke="#1f1f1f" stroke-width="0.22">25</text>
<text x="18.4" y="239.3" font-family='"Liberation Sans", sans-serif' font-size="6.2" font-weight="normal" text-anchor="end" fill="#1f1f1f" stroke="#1f1f1f" stroke-width="0.22">30</text>
<text x="18.4" y="224.5" font-family='"Liberation Sans", sans-serif' font-size="6.2" font-weight="normal" text-anchor="end" fill="#1f1f1f" stroke="#1f1f1f" stroke-width="0.22">35</text>
<text x="18.4" y="209.7" font-family='"Liberation Sans", sans-serif' font-size="6.2" font-weight="normal" text-anchor="end" fill="#1f1f1f" stroke="#1f1f1f" stroke-width="0.22">40</text>
<text x="18.4" y="194.9" font-family='"Liberation Sans", sans-serif' font-size="6.2" font-weight="normal" text-anchor="end" fill="#1f1f1f" stroke="#1f1f1f" stroke-width="0.22">45</text>
<text x="24.4" y="337.4" font-family='"Liberation Sans", sans-serif' font-size="6.2" font-weight="normal" text-anchor="middle" fill="#1f1f1f" stroke="#1f1f1f" stroke-width="0.22">0</text>
<text x="57.4" y="337.4" font-family='"Liberation Sans", sans-serif' font-size="6.2" font-weight="normal" text-anchor="middle" fill="#1f1f1f" stroke="#1f1f1f" stroke-width="0.22">0.01</text>
<text x="90.4" y="337.4" font-family='"Liberation Sans", sans-serif' font-size="6.2" font-weight="normal" text-anchor="middle" fill="#1f1f1f" stroke="#1f1f1f" stroke-width="0.22">0.02</text>
<text x="123.4" y="337.4" font-family='"Liberation Sans", sans-serif' font-size="6.2" font-weight="normal" text-anchor="middle" fill="#1f1f1f" stroke="#1f1f1f" stroke-width="0.22">0.03</text>
<text x="156.4" y="337.4" font-family='"Liberation Sans", sans-serif' font-size="6.2" font-weight="normal" text-anchor="middle" fill="#1f1f1f" stroke="#1f1f1f" stroke-width="0.22">0.04</text>
<text x="189.4" y="337.4" font-family='"Liberation Sans", sans-serif' font-size="6.2" font-weight="normal" text-anchor="middle" fill="#1f1f1f" stroke="#1f1f1f" stroke-width="0.22">0.05</text>
<text x="222.4" y="337.4" font-family='"Liberation Sans", sans-serif' font-size="6.2" font-weight="normal" text-anchor="middle" fill="#1f1f1f" stroke="#1f1f1f" stroke-width="0.22">0.06</text>
<text x="255.4" y="337.4" font-family='"Liberation Sans", sans-serif' font-size="6.2" font-weight="normal" text-anchor="middle" fill="#1f1f1f" stroke="#1f1f1f" stroke-width="0.22">0.07</text>
<text x="132.4" y="345.8" font-family='"Liberation Sans", sans-serif' font-size="7.0" font-weight="normal" text-anchor="middle" fill="#1f1f1f" stroke="#1f1f1f" stroke-width="0.22">ε [-]</text>
<text x="10.0" y="271.2" font-family='"Liberation Sans", sans-serif' font-size="6.6" font-weight="normal" text-anchor="middle" fill="#1f1f1f" transform="rotate(-90 10.0 271.2)" stroke="#1f1f1f" stroke-width="0.22">σ [MPa]</text>
<rect x="112.5" y="189" width="37.5" height="13.8" fill="#fff"/>
<text x="131.8" y="199.7" font-family='"Liberation Sans", sans-serif' font-size="9.0" font-weight="normal" text-anchor="middle" fill="#151515" textLength="31.4" lengthAdjust="spacingAndGlyphs" stroke="#151515" stroke-width="0.22">SAC305</text>
<path d="M24.56 326.41 L24.49 323.71 L24.41 321.01 L24.34 318.30 L24.27 315.58 L24.21 312.85 L24.16 310.12 L24.13 307.39 L24.12 304.65 L24.14 301.92 L24.19 299.19 L24.27 296.46 L24.39 293.74 L24.55 291.02 L24.76 288.31 L25.02 285.61 L25.34 282.92 L25.71 280.24 L26.15 277.57 L26.65 274.92 L27.22 272.29 L27.87 269.67 L28.60 267.07 L29.42 264.49 L30.32 261.94 L31.31 259.41 L32.40 256.90 L33.58 254.42 L34.83 251.97 L36.15 249.54 L37.50 247.15 L38.89 244.78 L40.31 242.46 L41.81 240.22 L43.42 238.08 L45.19 236.08 L47.13 234.22 L49.20 232.51 L51.40 230.93 L53.70 229.48 L56.07 228.15 L58.51 226.94 L61.00 225.84 L63.52 224.84 L66.08 223.93 L68.66 223.10 L71.28 222.34 L73.91 221.64 L76.56 220.99 L79.23 220.38 L81.90 219.80 L84.57 219.24 L87.24 218.69 L89.91 218.16 L92.58 217.63 L95.26 217.13 L97.93 216.63 L100.60 216.15 L103.28 215.67 L105.95 215.21 L108.63 214.76 L111.30 214.32 L113.98 213.89 L116.66 213.47 L119.34 213.06 L122.03 212.66 L124.72 212.27 L127.40 211.88 L130.09 211.51 L132.79 211.14 L135.48 210.78 L138.18 210.44 L140.87 210.10 L143.57 209.77 L146.27 209.44 L148.97 209.13 L151.68 208.82 L154.38 208.52 L157.08 208.24 L159.79 207.95 L162.50 207.68 L165.20 207.42 L167.91 207.16 L170.62 206.91 L173.33 206.67 L176.04 206.43 L178.75 206.21 L181.46 205.99 L184.17 205.78 L186.89 205.57 L189.60 205.38 L192.31 205.19 L195.02 205.00 L197.73 204.83 L200.45 204.66 L203.16 204.50 L205.87 204.35 L208.58 204.20 L211.29 204.06 L214.00 203.93" fill="none" stroke="#727272" stroke-width="1.2" stroke-linejoin="round" stroke-linecap="butt"/>
<path d="M24.51 326.41 L24.46 324.75 L24.42 323.10 L24.39 321.45 L24.36 319.81 L24.33 318.17 L24.31 316.54 L24.29 314.92 L24.27 313.30 L24.27 311.68 L24.26 310.06 L24.27 308.45 L24.27 306.84 L24.29 305.24 L24.31 303.64 L24.33 302.04 L24.37 300.44 L24.41 298.84 L24.46 297.25 L24.51 295.65 L24.57 294.06 L24.64 292.47 L24.72 290.88 L24.81 289.28 L24.90 287.69 L25.01 286.10 L25.12 284.50 L25.24 282.91 L25.37 281.31 L25.51 279.71 L25.66 278.11 L25.82 276.51 L25.99 274.90 L26.17 273.29 L26.36 271.68 L26.57 270.06 L26.78 268.44 L27.00 266.82 L27.24 265.19 L27.49 263.56 L27.76 261.93 L28.05 260.30 L28.36 258.67 L28.70 257.06 L29.06 255.46 L29.46 253.87 L29.89 252.29 L30.35 250.73 L30.86 249.20 L31.41 247.68 L32.00 246.19 L32.65 244.74 L33.34 243.31 L34.09 241.91 L34.89 240.55 L35.75 239.23 L36.67 237.94 L37.64 236.70 L38.66 235.49 L39.72 234.32 L40.84 233.19 L42.00 232.10 L43.20 231.05 L44.44 230.03 L45.72 229.06 L47.04 228.13 L48.38 227.24 L49.76 226.39 L51.17 225.58 L52.61 224.81 L54.06 224.08 L55.55 223.40 L57.05 222.76 L58.57 222.16 L60.10 221.60 L61.65 221.07 L63.21 220.58 L64.78 220.12 L66.36 219.69 L67.94 219.27 L69.52 218.87 L71.10 218.49 L72.69 218.12 L74.27 217.76 L75.84 217.40 L77.41 217.04 L78.96 216.67 L80.50 216.30 L82.03 215.91 L83.54 215.51 L86.80 213.80 L89.70 213.44 L91.57 213.22 L93.44 212.99 L95.31 212.77 L97.18 212.54 L99.05 212.31 L100.92 212.07 L102.79 211.84 L104.66 211.61 L106.53 211.38 L108.40 211.15 L110.27 210.92 L112.14 210.70 L114.01 210.47 L115.88 210.25 L117.75 210.04 L119.62 209.82 L121.49 209.62 L123.36 209.41 L125.23 209.22 L127.11 209.03 L128.98 208.84 L130.86 208.66 L132.73 208.50 L134.61 208.33 L136.49 208.18 L138.37 208.04 L140.24 207.90 L142.13 207.78 L144.01 207.67 L147.00 206.60 L150.00 207.30 L152.10 207.17 L154.21 207.03 L156.31 206.90 L158.42 206.78 L160.52 206.65 L162.63 206.53 L164.73 206.41 L166.84 206.30 L168.95 206.18 L171.05 206.07 L173.16 205.96 L175.26 205.84 L177.37 205.73 L179.47 205.61 L181.58 205.50 L183.68 205.38 L185.79 205.26 L187.90 205.13 L190.00 205.00 L194.00 204.60 L196.00 205.10 L205.00 204.80 L210.00 204.30 L214.60 203.60" fill="none" stroke="#050505" stroke-width="1.35" stroke-linejoin="round" stroke-linecap="butt"/>
<rect x="186" y="267" width="67" height="22" fill="#fff"/>
<line x1="188.6" y1="271.6" x2="202.6" y2="271.6" stroke="#727272" stroke-width="1.2"/>
<line x1="188.6" y1="284" x2="202.6" y2="284" stroke="#050505" stroke-width="1.5"/>
<text x="205.0" y="273.6" font-family='"Liberation Sans", sans-serif' font-size="6.2" font-weight="normal" text-anchor="start" fill="#1f1f1f" textLength="45.6" lengthAdjust="spacingAndGlyphs" stroke="#1f1f1f" stroke-width="0.22">FEM_10mm/min</text>
<text x="205.0" y="286.0" font-family='"Liberation Sans", sans-serif' font-size="6.2" font-weight="normal" text-anchor="start" fill="#1f1f1f" textLength="43.5" lengthAdjust="spacingAndGlyphs" stroke="#1f1f1f" stroke-width="0.22">305_10mm/min</text>
<text x="133.0" y="364.5" font-family='"Liberation Serif", serif' font-size="14.5" text-anchor="middle" fill="#111" textLength="15.0" lengthAdjust="spacingAndGlyphs">(<tspan font-weight="bold">c</tspan>)</text>
<line x1="356.4" y1="327.2" x2="356.4" y2="193.2" stroke="#e4e4e4" stroke-width="0.6"/>
<line x1="401.5" y1="327.2" x2="401.5" y2="193.2" stroke="#e4e4e4" stroke-width="0.6"/>
<line x1="446.5" y1="327.2" x2="446.5" y2="193.2" stroke="#e4e4e4" stroke-width="0.6"/>
<line x1="491.6" y1="327.2" x2="491.6" y2="193.2" stroke="#e4e4e4" stroke-width="0.6"/>
<line x1="536.6" y1="327.2" x2="536.6" y2="193.2" stroke="#e4e4e4" stroke-width="0.6"/>
<line x1="311.4" y1="310.4" x2="536.6" y2="310.4" stroke="#e4e4e4" stroke-width="0.6"/>
<line x1="311.4" y1="293.7" x2="536.6" y2="293.7" stroke="#e4e4e4" stroke-width="0.6"/>
<line x1="311.4" y1="276.9" x2="536.6" y2="276.9" stroke="#e4e4e4" stroke-width="0.6"/>
<line x1="311.4" y1="260.2" x2="536.6" y2="260.2" stroke="#e4e4e4" stroke-width="0.6"/>
<line x1="311.4" y1="243.4" x2="536.6" y2="243.4" stroke="#e4e4e4" stroke-width="0.6"/>
<line x1="311.4" y1="226.7" x2="536.6" y2="226.7" stroke="#e4e4e4" stroke-width="0.6"/>
<line x1="311.4" y1="209.9" x2="536.6" y2="209.9" stroke="#e4e4e4" stroke-width="0.6"/>
<line x1="311.4" y1="193.2" x2="536.6" y2="193.2" stroke="#e4e4e4" stroke-width="0.6"/>
<line x1="311.4" y1="327.2" x2="536.6" y2="327.2" stroke="#bcbcbc" stroke-width="0.7"/>
<line x1="311.4" y1="327.2" x2="311.4" y2="193.2" stroke="#bcbcbc" stroke-width="0.7"/>
<line x1="311.4" y1="326.0" x2="311.4" y2="328.4" stroke="#bcbcbc" stroke-width="0.5"/>
<line x1="315.9" y1="326.0" x2="315.9" y2="328.4" stroke="#bcbcbc" stroke-width="0.5"/>
<line x1="320.4" y1="326.0" x2="320.4" y2="328.4" stroke="#bcbcbc" stroke-width="0.5"/>
<line x1="324.9" y1="326.0" x2="324.9" y2="328.4" stroke="#bcbcbc" stroke-width="0.5"/>
<line x1="329.4" y1="326.0" x2="329.4" y2="328.4" stroke="#bcbcbc" stroke-width="0.5"/>
<line x1="333.9" y1="326.0" x2="333.9" y2="328.4" stroke="#bcbcbc" stroke-width="0.5"/>
<line x1="338.4" y1="326.0" x2="338.4" y2="328.4" stroke="#bcbcbc" stroke-width="0.5"/>
<line x1="342.9" y1="326.0" x2="342.9" y2="328.4" stroke="#bcbcbc" stroke-width="0.5"/>
<line x1="347.4" y1="326.0" x2="347.4" y2="328.4" stroke="#bcbcbc" stroke-width="0.5"/>
<line x1="351.9" y1="326.0" x2="351.9" y2="328.4" stroke="#bcbcbc" stroke-width="0.5"/>
<line x1="356.4" y1="326.0" x2="356.4" y2="328.4" stroke="#bcbcbc" stroke-width="0.5"/>
<line x1="360.9" y1="326.0" x2="360.9" y2="328.4" stroke="#bcbcbc" stroke-width="0.5"/>
<line x1="365.4" y1="326.0" x2="365.4" y2="328.4" stroke="#bcbcbc" stroke-width="0.5"/>
<line x1="370.0" y1="326.0" x2="370.0" y2="328.4" stroke="#bcbcbc" stroke-width="0.5"/>
<line x1="374.5" y1="326.0" x2="374.5" y2="328.4" stroke="#bcbcbc" stroke-width="0.5"/>
<line x1="379.0" y1="326.0" x2="379.0" y2="328.4" stroke="#bcbcbc" stroke-width="0.5"/>
<line x1="383.5" y1="326.0" x2="383.5" y2="328.4" stroke="#bcbcbc" stroke-width="0.5"/>
<line x1="388.0" y1="326.0" x2="388.0" y2="328.4" stroke="#bcbcbc" stroke-width="0.5"/>
<line x1="392.5" y1="326.0" x2="392.5" y2="328.4" stroke="#bcbcbc" stroke-width="0.5"/>
<line x1="397.0" y1="326.0" x2="397.0" y2="328.4" stroke="#bcbcbc" stroke-width="0.5"/>
<line x1="401.5" y1="326.0" x2="401.5" y2="328.4" stroke="#bcbcbc" stroke-width="0.5"/>
<line x1="406.0" y1="326.0" x2="406.0" y2="328.4" stroke="#bcbcbc" stroke-width="0.5"/>
<line x1="410.5" y1="326.0" x2="410.5" y2="328.4" stroke="#bcbcbc" stroke-width="0.5"/>
<line x1="415.0" y1="326.0" x2="415.0" y2="328.4" stroke="#bcbcbc" stroke-width="0.5"/>
<line x1="419.5" y1="326.0" x2="419.5" y2="328.4" stroke="#bcbcbc" stroke-width="0.5"/>
<line x1="424.0" y1="326.0" x2="424.0" y2="328.4" stroke="#bcbcbc" stroke-width="0.5"/>
<line x1="428.5" y1="326.0" x2="428.5" y2="328.4" stroke="#bcbcbc" stroke-width="0.5"/>
<line x1="433.0" y1="326.0" x2="433.0" y2="328.4" stroke="#bcbcbc" stroke-width="0.5"/>
<line x1="437.5" y1="326.0" x2="437.5" y2="328.4" stroke="#bcbcbc" stroke-width="0.5"/>
<line x1="442.0" y1="326.0" x2="442.0" y2="328.4" stroke="#bcbcbc" stroke-width="0.5"/>
<line x1="446.5" y1="326.0" x2="446.5" y2="328.4" stroke="#bcbcbc" stroke-width="0.5"/>
<line x1="451.0" y1="326.0" x2="451.0" y2="328.4" stroke="#bcbcbc" stroke-width="0.5"/>
<line x1="455.5" y1="326.0" x2="455.5" y2="328.4" stroke="#bcbcbc" stroke-width="0.5"/>
<line x1="460.0" y1="326.0" x2="460.0" y2="328.4" stroke="#bcbcbc" stroke-width="0.5"/>
<line x1="464.5" y1="326.0" x2="464.5" y2="328.4" stroke="#bcbcbc" stroke-width="0.5"/>
<line x1="469.0" y1="326.0" x2="469.0" y2="328.4" stroke="#bcbcbc" stroke-width="0.5"/>
<line x1="473.5" y1="326.0" x2="473.5" y2="328.4" stroke="#bcbcbc" stroke-width="0.5"/>
<line x1="478.0" y1="326.0" x2="478.0" y2="328.4" stroke="#bcbcbc" stroke-width="0.5"/>
<line x1="482.6" y1="326.0" x2="482.6" y2="328.4" stroke="#bcbcbc" stroke-width="0.5"/>
<line x1="487.1" y1="326.0" x2="487.1" y2="328.4" stroke="#bcbcbc" stroke-width="0.5"/>
<line x1="491.6" y1="326.0" x2="491.6" y2="328.4" stroke="#bcbcbc" stroke-width="0.5"/>
<line x1="496.1" y1="326.0" x2="496.1" y2="328.4" stroke="#bcbcbc" stroke-width="0.5"/>
<line x1="500.6" y1="326.0" x2="500.6" y2="328.4" stroke="#bcbcbc" stroke-width="0.5"/>
<line x1="505.1" y1="326.0" x2="505.1" y2="328.4" stroke="#bcbcbc" stroke-width="0.5"/>
<line x1="509.6" y1="326.0" x2="509.6" y2="328.4" stroke="#bcbcbc" stroke-width="0.5"/>
<line x1="514.1" y1="326.0" x2="514.1" y2="328.4" stroke="#bcbcbc" stroke-width="0.5"/>
<line x1="518.6" y1="326.0" x2="518.6" y2="328.4" stroke="#bcbcbc" stroke-width="0.5"/>
<line x1="523.1" y1="326.0" x2="523.1" y2="328.4" stroke="#bcbcbc" stroke-width="0.5"/>
<line x1="527.6" y1="326.0" x2="527.6" y2="328.4" stroke="#bcbcbc" stroke-width="0.5"/>
<line x1="532.1" y1="326.0" x2="532.1" y2="328.4" stroke="#bcbcbc" stroke-width="0.5"/>
<line x1="536.6" y1="326.0" x2="536.6" y2="328.4" stroke="#bcbcbc" stroke-width="0.5"/>
<line x1="310.2" y1="327.2" x2="312.6" y2="327.2" stroke="#bcbcbc" stroke-width="0.5"/>
<line x1="310.2" y1="323.8" x2="312.6" y2="323.8" stroke="#bcbcbc" stroke-width="0.5"/>
<line x1="310.2" y1="320.5" x2="312.6" y2="320.5" stroke="#bcbcbc" stroke-width="0.5"/>
<line x1="310.2" y1="317.1" x2="312.6" y2="317.1" stroke="#bcbcbc" stroke-width="0.5"/>
<line x1="310.2" y1="313.8" x2="312.6" y2="313.8" stroke="#bcbcbc" stroke-width="0.5"/>
<line x1="310.2" y1="310.4" x2="312.6" y2="310.4" stroke="#bcbcbc" stroke-width="0.5"/>
<line x1="310.2" y1="307.1" x2="312.6" y2="307.1" stroke="#bcbcbc" stroke-width="0.5"/>
<line x1="310.2" y1="303.8" x2="312.6" y2="303.8" stroke="#bcbcbc" stroke-width="0.5"/>
<line x1="310.2" y1="300.4" x2="312.6" y2="300.4" stroke="#bcbcbc" stroke-width="0.5"/>
<line x1="310.2" y1="297.1" x2="312.6" y2="297.1" stroke="#bcbcbc" stroke-width="0.5"/>
<line x1="310.2" y1="293.7" x2="312.6" y2="293.7" stroke="#bcbcbc" stroke-width="0.5"/>
<line x1="310.2" y1="290.3" x2="312.6" y2="290.3" stroke="#bcbcbc" stroke-width="0.5"/>
<line x1="310.2" y1="287.0" x2="312.6" y2="287.0" stroke="#bcbcbc" stroke-width="0.5"/>
<line x1="310.2" y1="283.6" x2="312.6" y2="283.6" stroke="#bcbcbc" stroke-width="0.5"/>
<line x1="310.2" y1="280.3" x2="312.6" y2="280.3" stroke="#bcbcbc" stroke-width="0.5"/>
<line x1="310.2" y1="276.9" x2="312.6" y2="276.9" stroke="#bcbcbc" stroke-width="0.5"/>
<line x1="310.2" y1="273.6" x2="312.6" y2="273.6" stroke="#bcbcbc" stroke-width="0.5"/>
<line x1="310.2" y1="270.2" x2="312.6" y2="270.2" stroke="#bcbcbc" stroke-width="0.5"/>
<line x1="310.2" y1="266.9" x2="312.6" y2="266.9" stroke="#bcbcbc" stroke-width="0.5"/>
<line x1="310.2" y1="263.6" x2="312.6" y2="263.6" stroke="#bcbcbc" stroke-width="0.5"/>
<line x1="310.2" y1="260.2" x2="312.6" y2="260.2" stroke="#bcbcbc" stroke-width="0.5"/>
<line x1="310.2" y1="256.8" x2="312.6" y2="256.8" stroke="#bcbcbc" stroke-width="0.5"/>
<line x1="310.2" y1="253.5" x2="312.6" y2="253.5" stroke="#bcbcbc" stroke-width="0.5"/>
<line x1="310.2" y1="250.1" x2="312.6" y2="250.1" stroke="#bcbcbc" stroke-width="0.5"/>
<line x1="310.2" y1="246.8" x2="312.6" y2="246.8" stroke="#bcbcbc" stroke-width="0.5"/>
<line x1="310.2" y1="243.4" x2="312.6" y2="243.4" stroke="#bcbcbc" stroke-width="0.5"/>
<line x1="310.2" y1="240.1" x2="312.6" y2="240.1" stroke="#bcbcbc" stroke-width="0.5"/>
<line x1="310.2" y1="236.8" x2="312.6" y2="236.8" stroke="#bcbcbc" stroke-width="0.5"/>
<line x1="310.2" y1="233.4" x2="312.6" y2="233.4" stroke="#bcbcbc" stroke-width="0.5"/>
<line x1="310.2" y1="230.0" x2="312.6" y2="230.0" stroke="#bcbcbc" stroke-width="0.5"/>
<line x1="310.2" y1="226.7" x2="312.6" y2="226.7" stroke="#bcbcbc" stroke-width="0.5"/>
<line x1="310.2" y1="223.3" x2="312.6" y2="223.3" stroke="#bcbcbc" stroke-width="0.5"/>
<line x1="310.2" y1="220.0" x2="312.6" y2="220.0" stroke="#bcbcbc" stroke-width="0.5"/>
<line x1="310.2" y1="216.6" x2="312.6" y2="216.6" stroke="#bcbcbc" stroke-width="0.5"/>
<line x1="310.2" y1="213.3" x2="312.6" y2="213.3" stroke="#bcbcbc" stroke-width="0.5"/>
<line x1="310.2" y1="209.9" x2="312.6" y2="209.9" stroke="#bcbcbc" stroke-width="0.5"/>
<line x1="310.2" y1="206.6" x2="312.6" y2="206.6" stroke="#bcbcbc" stroke-width="0.5"/>
<line x1="310.2" y1="203.2" x2="312.6" y2="203.2" stroke="#bcbcbc" stroke-width="0.5"/>
<line x1="310.2" y1="199.9" x2="312.6" y2="199.9" stroke="#bcbcbc" stroke-width="0.5"/>
<line x1="310.2" y1="196.5" x2="312.6" y2="196.5" stroke="#bcbcbc" stroke-width="0.5"/>
<line x1="310.2" y1="193.2" x2="312.6" y2="193.2" stroke="#bcbcbc" stroke-width="0.5"/>
<text x="304.8" y="329.3" font-family='"Liberation Sans", sans-serif' font-size="7.0" font-weight="normal" text-anchor="end" fill="#1f1f1f" stroke="#1f1f1f" stroke-width="0.22">0</text>
<text x="304.8" y="312.6" font-family='"Liberation Sans", sans-serif' font-size="7.0" font-weight="normal" text-anchor="end" fill="#1f1f1f" stroke="#1f1f1f" stroke-width="0.22">0.02</text>
<text x="304.8" y="295.8" font-family='"Liberation Sans", sans-serif' font-size="7.0" font-weight="normal" text-anchor="end" fill="#1f1f1f" stroke="#1f1f1f" stroke-width="0.22">0.04</text>
<text x="304.8" y="279.1" font-family='"Liberation Sans", sans-serif' font-size="7.0" font-weight="normal" text-anchor="end" fill="#1f1f1f" stroke="#1f1f1f" stroke-width="0.22">0.06</text>
<text x="304.8" y="262.3" font-family='"Liberation Sans", sans-serif' font-size="7.0" font-weight="normal" text-anchor="end" fill="#1f1f1f" stroke="#1f1f1f" stroke-width="0.22">0.08</text>
<text x="304.8" y="245.5" font-family='"Liberation Sans", sans-serif' font-size="7.0" font-weight="normal" text-anchor="end" fill="#1f1f1f" stroke="#1f1f1f" stroke-width="0.22">0.1</text>
<text x="304.8" y="228.8" font-family='"Liberation Sans", sans-serif' font-size="7.0" font-weight="normal" text-anchor="end" fill="#1f1f1f" stroke="#1f1f1f" stroke-width="0.22">0.12</text>
<text x="304.8" y="212.0" font-family='"Liberation Sans", sans-serif' font-size="7.0" font-weight="normal" text-anchor="end" fill="#1f1f1f" stroke="#1f1f1f" stroke-width="0.22">0.14</text>
<text x="304.8" y="195.3" font-family='"Liberation Sans", sans-serif' font-size="7.0" font-weight="normal" text-anchor="end" fill="#1f1f1f" stroke="#1f1f1f" stroke-width="0.22">0.16</text>
<text x="311.4" y="339.3" font-family='"Liberation Sans", sans-serif' font-size="7.0" font-weight="normal" text-anchor="middle" fill="#1f1f1f" stroke="#1f1f1f" stroke-width="0.22">0</text>
<text x="356.4" y="339.3" font-family='"Liberation Sans", sans-serif' font-size="7.0" font-weight="normal" text-anchor="middle" fill="#1f1f1f" stroke="#1f1f1f" stroke-width="0.22">300</text>
<text x="401.5" y="339.3" font-family='"Liberation Sans", sans-serif' font-size="7.0" font-weight="normal" text-anchor="middle" fill="#1f1f1f" stroke="#1f1f1f" stroke-width="0.22">600</text>
<text x="446.5" y="339.3" font-family='"Liberation Sans", sans-serif' font-size="7.0" font-weight="normal" text-anchor="middle" fill="#1f1f1f" stroke="#1f1f1f" stroke-width="0.22">900</text>
<text x="491.6" y="339.3" font-family='"Liberation Sans", sans-serif' font-size="7.0" font-weight="normal" text-anchor="middle" fill="#1f1f1f" stroke="#1f1f1f" stroke-width="0.22">1200</text>
<text x="536.6" y="339.3" font-family='"Liberation Sans", sans-serif' font-size="7.0" font-weight="normal" text-anchor="middle" fill="#1f1f1f" stroke="#1f1f1f" stroke-width="0.22">1500</text>
<text x="415.6" y="345.6" font-family='"Liberation Sans", sans-serif' font-size="6.6" font-weight="normal" text-anchor="middle" fill="#1f1f1f" stroke="#1f1f1f" stroke-width="0.22">t [s]</text>
<text x="291.0" y="269.0" font-family='"Liberation Sans", sans-serif' font-size="7" font-weight="bold" text-anchor="middle" fill="#1f1f1f" transform="rotate(-90 291.0 269.0)" stroke="#1f1f1f" stroke-width="0.22">ε [-]</text>
<rect x="394.5" y="189" width="37.5" height="13.8" fill="#fff"/>
<text x="413.7" y="199.7" font-family='"Liberation Sans", sans-serif' font-size="9.0" font-weight="normal" text-anchor="middle" fill="#151515" textLength="31.4" lengthAdjust="spacingAndGlyphs" stroke="#151515" stroke-width="0.22">SAC305</text>
<path d="M311.32 327.20 L311.34 325.31 L311.58 323.54 L312.02 321.87 L312.64 320.29 L313.43 318.81 L314.36 317.40 L315.41 316.07 L316.57 314.80 L317.82 313.60 L319.13 312.44 L320.51 311.33 L321.93 310.26 L323.39 309.22 L324.87 308.20 L326.36 307.21 L327.85 306.24 L329.35 305.28 L330.86 304.34 L332.37 303.41 L333.88 302.50 L335.40 301.60 L336.92 300.71 L338.45 299.83 L339.98 298.97 L341.51 298.11 L343.05 297.26 L344.59 296.42 L346.13 295.58 L347.67 294.75 L349.22 293.92 L350.77 293.10 L352.32 292.28 L353.88 291.47 L355.44 290.66 L357.00 289.85 L358.56 289.04 L360.13 288.24 L361.69 287.45 L363.26 286.65 L364.83 285.86 L366.41 285.08 L367.99 284.30 L369.57 283.52 L371.15 282.75 L372.73 281.99 L374.32 281.22 L375.91 280.46 L377.50 279.71 L379.09 278.96 L380.69 278.22 L382.29 277.48 L383.89 276.75 L385.49 276.02 L387.10 275.29 L388.71 274.57 L390.32 273.86 L391.93 273.15 L393.55 272.45 L395.16 271.75 L396.78 271.06 L398.41 270.37 L400.03 269.69 L401.66 269.02 L403.29 268.35 L404.92 267.69 L406.56 267.03 L408.19 266.38 L409.83 265.74 L411.47 265.10 L413.12 264.47 L414.76 263.84 L416.41 263.22 L418.06 262.61 L419.72 262.01 L421.37 261.41 L423.03 260.82 L424.69 260.23 L426.35 259.65 L428.02 259.08 L429.69 258.52 L431.36 257.96 L433.03 257.41 L434.70 256.87 L436.38 256.33 L438.06 255.81 L439.74 255.29 L441.42 254.78 L443.11 254.27 L444.80 253.77 L446.49 253.29 L448.18 252.80 L449.88 252.33 L451.58 251.87 L453.28 251.41 L454.98 250.96 L456.68 250.52 L458.39 250.09 L460.10 249.67 L461.81 249.25" fill="none" stroke="#727272" stroke-width="1.1" stroke-linejoin="round" stroke-linecap="butt"/>
<path d="M311.52 327.23 L311.32 325.37 L311.45 323.65 L311.88 322.07 L312.56 320.62 L313.47 319.28 L314.55 318.04 L315.77 316.90 L317.10 315.84 L318.48 314.86 L319.91 313.94 L321.37 313.09 L322.87 312.28 L324.39 311.51 L325.92 310.78 L327.47 310.07 L329.03 309.38 L330.58 308.69 L332.13 308.01 L333.67 307.33 L335.20 306.65 L336.73 305.96 L338.25 305.26 L339.77 304.56 L341.29 303.84 L342.80 303.11 L344.31 302.36 L345.83 301.61 L347.35 300.88 L348.88 300.17 L350.43 299.52 L352.00 298.92 L353.59 298.34 L355.18 297.79 L356.78 297.25 L358.37 296.71 L359.97 296.17 L361.56 295.62 L363.16 295.08 L364.75 294.54 L366.35 293.99 L367.95 293.45 L369.54 292.90 L371.14 292.36 L372.73 291.81 L374.33 291.26 L375.92 290.71 L377.52 290.16 L379.11 289.61 L380.70 289.06 L382.30 288.51 L383.89 287.95 L385.48 287.40 L387.07 286.84 L388.66 286.28 L390.25 285.71 L391.84 285.15 L393.43 284.58 L395.02 284.02 L396.61 283.45 L398.20 282.89 L399.79 282.32 L401.38 281.76 L402.97 281.20 L404.56 280.65 L406.16 280.10 L407.75 279.55 L409.35 279.01 L410.95 278.47 L412.55 277.94 L414.15 277.42 L415.75 276.91 L417.36 276.40 L418.97 275.90 L420.58 275.42 L422.20 274.94 L423.82 274.48 L425.44 274.03 L427.07 273.59 L428.70 273.16 L430.34 272.75 L431.98 272.35 L433.62 271.96 L435.27 271.59 L436.92 271.23 L438.57 270.88 L440.22 270.53 L441.88 270.20 L443.54 269.88 L445.20 269.56 L446.86 269.25 L448.52 268.94 L450.19 268.64 L451.85 268.34 L453.51 268.05 L455.17 267.76 L456.83 267.46 L458.49 267.17 L460.14 266.88 L461.79 266.58" fill="none" stroke="#727272" stroke-width="1.05" stroke-linejoin="round" stroke-linecap="butt" stroke-dasharray="2.8 1.3"/>
<path d="M311.41 327.20 L311.36 325.33 L311.69 323.75 L312.33 322.43 L313.24 321.32 L314.36 320.40 L315.65 319.62 L317.04 318.95 L318.50 318.36 L319.98 317.81 L321.50 317.32 L323.03 316.87 L324.59 316.46 L326.16 316.07 L327.74 315.72 L329.32 315.38 L330.91 315.06 L332.49 314.74 L334.07 314.44 L335.65 314.15 L337.22 313.86 L338.80 313.58 L340.37 313.31 L341.94 313.05 L343.51 312.79 L345.07 312.53 L346.64 312.29 L348.21 312.04 L349.77 311.81 L351.34 311.57 L352.91 311.34 L354.47 311.11 L356.04 310.88 L357.61 310.65 L359.18 310.43 L360.74 310.21 L362.31 309.98 L363.88 309.76 L365.46 309.54 L367.03 309.33 L368.60 309.11 L370.17 308.89 L371.75 308.68 L373.32 308.47 L374.90 308.25 L376.47 308.04 L378.05 307.83 L379.62 307.63 L381.20 307.42 L382.78 307.21 L384.35 307.01 L385.93 306.80 L387.51 306.60 L389.09 306.40 L390.67 306.20 L392.25 306.00 L393.83 305.80 L395.41 305.60 L396.99 305.41 L398.57 305.21 L400.15 305.02 L401.73 304.82 L403.31 304.63 L404.89 304.44 L406.48 304.25 L408.06 304.06 L409.64 303.87 L411.22 303.68 L412.80 303.49 L414.38 303.30 L415.97 303.12 L417.55 302.93 L419.13 302.75 L420.71 302.56 L422.29 302.38 L423.88 302.19 L425.46 302.01 L427.04 301.83 L428.62 301.65 L430.20 301.47 L431.79 301.29 L433.37 301.11 L434.95 300.93 L436.53 300.75 L438.11 300.57 L439.69 300.40 L441.27 300.22 L442.85 300.04 L444.43 299.86 L446.01 299.69 L447.59 299.51 L449.16 299.34 L450.74 299.16 L452.32 298.99 L453.90 298.81 L455.47 298.64 L457.05 298.46 L458.63 298.29 L460.20 298.12 L461.77 297.94" fill="none" stroke="#727272" stroke-width="1.0" stroke-linejoin="round" stroke-linecap="butt" stroke-dasharray="5.6 2.2 1.8 2.2"/>
<path d="M311.30 327.23 L311.33 324.40 L311.81 321.76 L312.66 319.31 L313.84 317.03 L315.29 314.90 L316.95 312.91 L318.78 311.05 L320.74 309.29 L322.83 307.64 L325.00 306.06 L327.24 304.56 L329.53 303.10 L331.83 301.69 L334.14 300.30 L336.46 298.95 L338.78 297.62 L341.12 296.32 L343.46 295.04 L345.80 293.79 L348.15 292.55 L350.51 291.33 L352.87 290.12 L355.24 288.93 L357.61 287.75 L359.98 286.58 L362.36 285.42 L364.75 284.26 L367.13 283.11 L369.52 281.96 L371.91 280.81 L374.31 279.67 L376.71 278.54 L379.11 277.40 L381.51 276.28 L383.92 275.15 L386.33 274.03 L388.74 272.91 L391.15 271.80 L393.57 270.68 L395.99 269.57 L398.41 268.47 L400.83 267.36 L403.25 266.26 L405.68 265.16 L408.10 264.06 L410.53 262.97 L412.96 261.88 L415.39 260.78 L417.82 259.69 L420.25 258.61 L422.68 257.52 L425.11 256.43 L427.55 255.35 L429.98 254.26 L432.42 253.18 L434.85 252.09 L437.28 251.01 L439.72 249.93 L442.15 248.85 L444.59 247.77 L447.02 246.68 L449.45 245.60 L451.89 244.52 L454.32 243.43 L456.75 242.35 L459.18 241.26 L461.60 240.17 L464.03 239.07 L466.45 237.98 L468.87 236.87 L471.29 235.77 L473.70 234.65 L476.12 233.53 L478.52 232.41 L480.93 231.27 L483.32 230.13 L485.72 228.98 L488.11 227.82 L490.49 226.65 L492.87 225.47 L495.24 224.27 L497.61 223.07 L499.97 221.85 L502.32 220.62 L504.67 219.38 L507.01 218.12 L509.34 216.85 L511.67 215.56 L513.98 214.26 L516.29 212.94 L518.59 211.61 L520.88 210.25 L523.16 208.88 L525.43 207.49 L527.69 206.07 L529.95 204.64 L532.19 203.19 L534.42 201.71 L536.64 200.22" fill="none" stroke="#050505" stroke-width="1.25" stroke-linejoin="round" stroke-linecap="butt"/>
<path d="M311.37 327.21 L311.38 324.55 L311.97 322.20 L313.05 320.11 L314.50 318.26 L316.23 316.60 L318.14 315.11 L320.16 313.75 L322.28 312.51 L324.48 311.37 L326.74 310.30 L329.04 309.30 L331.37 308.35 L333.71 307.42 L336.04 306.50 L338.35 305.57 L340.64 304.62 L342.91 303.68 L345.17 302.74 L347.43 301.82 L349.70 300.93 L351.97 300.06 L354.27 299.24 L356.59 298.47 L358.94 297.76 L361.32 297.08 L363.71 296.43 L366.11 295.79 L368.50 295.16 L370.90 294.51 L373.28 293.84 L375.67 293.17 L378.04 292.49 L380.41 291.79 L382.78 291.09 L385.14 290.39 L387.50 289.67 L389.86 288.96 L392.22 288.24 L394.57 287.53 L396.93 286.81 L399.28 286.10 L401.64 285.39 L404.00 284.68 L406.36 283.99 L408.72 283.30 L411.09 282.62 L413.46 281.95 L415.83 281.29 L418.21 280.63 L420.59 279.99 L422.97 279.35 L425.36 278.71 L427.74 278.08 L430.13 277.45 L432.51 276.83 L434.90 276.21 L437.29 275.58 L439.68 274.96 L442.07 274.33 L444.45 273.71 L446.84 273.08 L449.22 272.44 L451.61 271.80 L453.99 271.16 L456.37 270.51 L458.75 269.85 L461.12 269.19 L463.50 268.53 L465.87 267.86 L468.24 267.18 L470.61 266.51 L472.98 265.82 L475.35 265.14 L477.72 264.45 L480.08 263.75 L482.45 263.05 L484.81 262.35 L487.17 261.64 L489.53 260.93 L491.89 260.22 L494.25 259.51 L496.61 258.79 L498.97 258.07 L501.32 257.34 L503.68 256.61 L506.03 255.88 L508.39 255.15 L510.74 254.42 L513.10 253.68 L515.45 252.94 L517.80 252.20 L520.15 251.46 L522.50 250.71 L524.86 249.97 L527.21 249.22 L529.56 248.47 L531.91 247.72 L534.26 246.97 L536.61 246.22" fill="none" stroke="#050505" stroke-width="1.3" stroke-linejoin="round" stroke-linecap="butt" stroke-dasharray="2.8 1.3"/>
<path d="M311.46 327.24 L311.40 324.48 L312.20 322.40 L313.66 320.86 L315.56 319.71 L317.70 318.79 L319.91 317.99 L322.14 317.26 L324.40 316.60 L326.68 316.01 L328.98 315.46 L331.29 314.96 L333.61 314.50 L335.93 314.06 L338.26 313.64 L340.59 313.24 L342.91 312.85 L345.24 312.47 L347.56 312.10 L349.89 311.74 L352.21 311.39 L354.54 311.05 L356.87 310.72 L359.19 310.39 L361.52 310.07 L363.85 309.75 L366.17 309.44 L368.50 309.13 L370.83 308.82 L373.16 308.52 L375.49 308.21 L377.82 307.91 L380.15 307.61 L382.48 307.31 L384.81 307.01 L387.14 306.71 L389.47 306.42 L391.80 306.12 L394.13 305.83 L396.47 305.54 L398.80 305.25 L401.13 304.96 L403.47 304.67 L405.80 304.38 L408.13 304.10 L410.47 303.81 L412.80 303.53 L415.14 303.25 L417.47 302.97 L419.81 302.68 L422.14 302.40 L424.48 302.13 L426.81 301.85 L429.15 301.57 L431.48 301.29 L433.82 301.02 L436.16 300.74 L438.49 300.47 L440.83 300.20 L443.17 299.92 L445.50 299.65 L447.84 299.38 L450.18 299.11 L452.51 298.83 L454.85 298.56 L457.19 298.29 L459.52 298.02 L461.86 297.75 L464.20 297.48 L466.53 297.21 L468.87 296.94 L471.21 296.67 L473.55 296.40 L475.88 296.13 L478.22 295.86 L480.56 295.59 L482.89 295.32 L485.23 295.05 L487.57 294.78 L489.90 294.51 L492.24 294.24 L494.58 293.97 L496.91 293.70 L499.25 293.43 L501.58 293.16 L503.92 292.89 L506.25 292.62 L508.59 292.34 L510.92 292.07 L513.26 291.79 L515.59 291.52 L517.93 291.24 L520.26 290.97 L522.60 290.69 L524.93 290.41 L527.26 290.14 L529.59 289.86 L531.93 289.58 L534.26 289.30 L536.59 289.01" fill="none" stroke="#050505" stroke-width="1.3" stroke-linejoin="round" stroke-linecap="butt" stroke-dasharray="5.6 2.2 1.8 2.2"/>
<rect x="323" y="206.2" width="77.5" height="52.2" fill="#fff"/>
<line x1="326.6" y1="212.0" x2="345.6" y2="212.0" stroke="#727272" stroke-width="1.2"/>
<text x="347.8" y="214.3" font-family='"Liberation Sans", sans-serif' font-size="7.0" font-weight="normal" text-anchor="start" fill="#1f1f1f" textLength="47.6" lengthAdjust="spacingAndGlyphs" stroke="#1f1f1f" stroke-width="0.22">FEM_28.03MPa</text>
<line x1="326.6" y1="220.6" x2="345.6" y2="220.6" stroke="#050505" stroke-width="1.5"/>
<text x="347.8" y="222.9" font-family='"Liberation Sans", sans-serif' font-size="7.0" font-weight="normal" text-anchor="start" fill="#1f1f1f" textLength="47.6" lengthAdjust="spacingAndGlyphs" stroke="#1f1f1f" stroke-width="0.22">EXP_28.03MPa</text>
<line x1="326.6" y1="229.2" x2="345.6" y2="229.2" stroke="#727272" stroke-width="1.0" stroke-dasharray="2.8 1.3"/>
<text x="347.8" y="231.5" font-family='"Liberation Sans", sans-serif' font-size="7.0" font-weight="normal" text-anchor="start" fill="#1f1f1f" textLength="47.6" lengthAdjust="spacingAndGlyphs" stroke="#1f1f1f" stroke-width="0.22">FEM_27.22MPa</text>
<line x1="326.6" y1="237.9" x2="345.6" y2="237.9" stroke="#050505" stroke-width="1.4" stroke-dasharray="2.8 1.3"/>
<text x="347.8" y="240.2" font-family='"Liberation Sans", sans-serif' font-size="7.0" font-weight="normal" text-anchor="start" fill="#1f1f1f" textLength="47.6" lengthAdjust="spacingAndGlyphs" stroke="#1f1f1f" stroke-width="0.22">EXP_27.22MPa</text>
<line x1="326.6" y1="246.6" x2="345.6" y2="246.6" stroke="#727272" stroke-width="1.0" stroke-dasharray="4.8 3.2 1.6 3.2"/>
<text x="347.8" y="248.9" font-family='"Liberation Sans", sans-serif' font-size="7.0" font-weight="normal" text-anchor="start" fill="#1f1f1f" textLength="47.6" lengthAdjust="spacingAndGlyphs" stroke="#1f1f1f" stroke-width="0.22">FEM_25.05MPa</text>
<line x1="326.6" y1="255.3" x2="345.6" y2="255.3" stroke="#050505" stroke-width="1.4" stroke-dasharray="4.8 3.2 1.6 3.2"/>
<text x="347.8" y="257.6" font-family='"Liberation Sans", sans-serif' font-size="7.0" font-weight="normal" text-anchor="start" fill="#1f1f1f" textLength="47.6" lengthAdjust="spacingAndGlyphs" stroke="#1f1f1f" stroke-width="0.22">EXP_25.05MPa</text>
<text x="415.0" y="364.5" font-family='"Liberation Serif", serif' font-size="14.5" text-anchor="middle" fill="#111" textLength="17.0" lengthAdjust="spacingAndGlyphs">(<tspan font-weight="bold">d</tspan>)</text>
</svg>
</body></html>
